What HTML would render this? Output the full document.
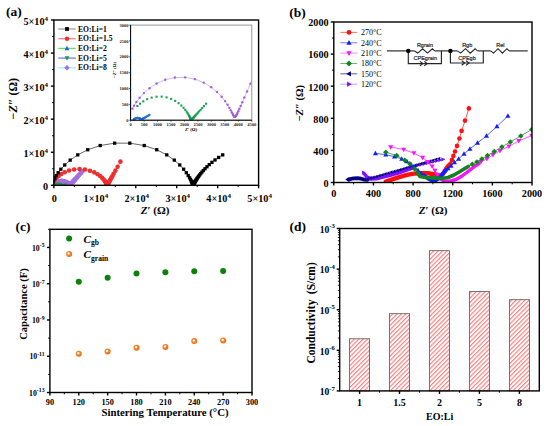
<!DOCTYPE html>
<html><head><meta charset="utf-8"><style>
html,body{margin:0;padding:0;background:#fff;overflow:hidden;width:550px;height:426px;}
svg{display:block;}
</style></head><body>
<svg width="550" height="426" viewBox="0 0 550 426">
<rect width="550" height="426" fill="#fff"/>
<g id="pa">
<clipPath id="ca"><rect x="53.9" y="20.0" width="204.70000000000002" height="165.3"/></clipPath>
<g clip-path="url(#ca)">
<path d="M54.38,183.43L56.14,186.55L52.62,186.55Z" fill="#1f5fe0" />
<path d="M54.39,183.43L56.15,186.55L52.63,186.55Z" fill="#1f5fe0" />
<path d="M54.4,183.42L56.16,186.54L52.64,186.54Z" fill="#1f5fe0" />
<path d="M54.41,183.41L56.17,186.53L52.65,186.53Z" fill="#1f5fe0" />
<path d="M54.42,183.4L56.18,186.52L52.66,186.52Z" fill="#1f5fe0" />
<path d="M54.43,183.39L56.19,186.51L52.67,186.51Z" fill="#1f5fe0" />
<path d="M54.45,183.38L56.21,186.5L52.69,186.5Z" fill="#1f5fe0" />
<path d="M54.48,183.36L56.24,186.48L52.72,186.48Z" fill="#1f5fe0" />
<path d="M54.51,183.34L56.27,186.46L52.75,186.46Z" fill="#1f5fe0" />
<path d="M54.54,183.32L56.3,186.44L52.78,186.44Z" fill="#1f5fe0" />
<path d="M54.59,183.3L56.35,186.42L52.83,186.42Z" fill="#1f5fe0" />
<path d="M54.64,183.28L56.4,186.4L52.88,186.4Z" fill="#1f5fe0" />
<path d="M54.71,183.26L56.47,186.38L52.95,186.38Z" fill="#1f5fe0" />
<path d="M54.78,183.24L56.54,186.36L53.02,186.36Z" fill="#1f5fe0" />
<path d="M54.85,183.23L56.61,186.35L53.09,186.35Z" fill="#1f5fe0" />
<path d="M54.93,183.23L56.69,186.35L53.17,186.35Z" fill="#1f5fe0" />
<path d="M55.01,183.23L56.77,186.35L53.25,186.35Z" fill="#1f5fe0" />
<path d="M55.09,183.24L56.85,186.36L53.33,186.36Z" fill="#1f5fe0" />
<path d="M55.16,183.26L56.92,186.38L53.4,186.38Z" fill="#1f5fe0" />
<path d="M55.22,183.27L56.98,186.39L53.46,186.39Z" fill="#1f5fe0" />
<path d="M55.28,183.29L57.04,186.41L53.52,186.41Z" fill="#1f5fe0" />
<path d="M55.32,183.31L57.08,186.43L53.56,186.43Z" fill="#1f5fe0" />
<path d="M55.36,183.33L57.12,186.45L53.6,186.45Z" fill="#1f5fe0" />
<path d="M55.4,183.34L57.16,186.46L53.64,186.46Z" fill="#1f5fe0" />
<path d="M55.43,183.36L57.19,186.48L53.67,186.48Z" fill="#1f5fe0" />
<path d="M55.45,183.37L57.21,186.49L53.69,186.49Z" fill="#1f5fe0" />
<path d="M55.48,183.38L57.24,186.5L53.72,186.5Z" fill="#1f5fe0" />
<path d="M55.5,183.38L57.26,186.5L53.74,186.5Z" fill="#1f5fe0" />
<path d="M55.52,183.39L57.28,186.51L53.76,186.51Z" fill="#1f5fe0" />
<path d="M55.54,183.39L57.3,186.51L53.78,186.51Z" fill="#1f5fe0" />
<path d="M55.55,183.39L57.31,186.51L53.79,186.51Z" fill="#1f5fe0" />
<path d="M55.57,183.39L57.33,186.51L53.81,186.51Z" fill="#1f5fe0" />
<path d="M55.59,183.39L57.35,186.51L53.83,186.51Z" fill="#1f5fe0" />
<path d="M55.62,183.38L57.38,186.5L53.86,186.5Z" fill="#1f5fe0" />
<path d="M55.64,183.38L57.4,186.5L53.88,186.5Z" fill="#1f5fe0" />
<path d="M55.66,183.37L57.42,186.49L53.9,186.49Z" fill="#1f5fe0" />
<path d="M55.69,183.37L57.45,186.49L53.93,186.49Z" fill="#1f5fe0" />
<path d="M55.72,183.36L57.48,186.48L53.96,186.48Z" fill="#1f5fe0" />
<path d="M55.75,183.35L57.51,186.47L53.99,186.47Z" fill="#1f5fe0" />
<path d="M55.78,183.34L57.54,186.46L54.02,186.46Z" fill="#1f5fe0" />
<path d="M55.81,183.33L57.57,186.45L54.05,186.45Z" fill="#1f5fe0" />
<path d="M55.85,183.32L57.61,186.44L54.09,186.44Z" fill="#1f5fe0" />
<path d="M55.9,183.3L57.66,186.42L54.14,186.42Z" fill="#1f5fe0" />
<path d="M55.94,183.29L57.7,186.41L54.18,186.41Z" fill="#1f5fe0" />
<path d="M55.99,183.27L57.75,186.39L54.23,186.39Z" fill="#1f5fe0" />
<path d="M56.05,183.26L57.81,186.38L54.29,186.38Z" fill="#1f5fe0" />
<path d="M56.11,183.24L57.87,186.36L54.35,186.36Z" fill="#1f5fe0" />
<path d="M56.18,183.22L57.94,186.34L54.42,186.34Z" fill="#1f5fe0" />
<path d="M56.25,183.19L58.01,186.31L54.49,186.31Z" fill="#1f5fe0" />
<path d="M56.33,183.17L58.09,186.29L54.57,186.29Z" fill="#1f5fe0" />
<path d="M56.42,183.14L58.18,186.26L54.66,186.26Z" fill="#1f5fe0" />
<polyline points="54.82,183.7 55.23,183.4 55.73,183.07 56.34,182.72 57.08,182.38 57.96,182.05 58.96,181.78 60.07,181.59 61.24,181.5 62.42,181.53 63.56,181.68 64.62,181.92 65.56,182.22 66.36,182.56 67.04,182.91 67.59,183.25 68.03,183.56 68.39,183.84 68.68,184.08 68.9,184.29 69.08,184.47 69.22,184.61 69.34,184.74 69.43,184.83 69.5,184.91 69.57,184.98 69.62,185.03 69.66,185.06 69.7,185.09 69.73,185.11 69.76,185.12 69.79,185.12 69.82,185.12 69.85,185.1 69.89,185.08 69.93,185.05 69.98,185.01 70.03,184.96 70.1,184.9 70.17,184.82 70.27,184.72 70.38,184.6 70.52,184.45 70.69,184.26 70.89,184.04 71.14,183.77 71.44,183.44 71.8,183.03 72.25,182.54 72.79,181.93 73.45,181.2 74.26,180.31 75.24,179.22 76.43,177.89 77.88,176.27 79.66,174.3 81.81,171.91" fill="none" stroke="#b080e0" stroke-width="0.6" stroke-linejoin="round" />
<path d="M54.82,180.51L58.01,183.7L54.82,186.89L51.64,183.7Z" fill="#a46fe0" />
<path d="M55.23,180.21L58.41,183.4L55.23,186.59L52.04,183.4Z" fill="#a46fe0" />
<path d="M55.73,179.88L58.91,183.07L55.73,186.26L52.54,183.07Z" fill="#a46fe0" />
<path d="M56.34,179.54L59.53,182.72L56.34,185.91L53.15,182.72Z" fill="#a46fe0" />
<path d="M57.08,179.19L60.27,182.38L57.08,185.56L53.9,182.38Z" fill="#a46fe0" />
<path d="M57.96,178.86L61.15,182.05L57.96,185.24L54.77,182.05Z" fill="#a46fe0" />
<path d="M58.96,178.59L62.15,181.78L58.96,184.97L55.78,181.78Z" fill="#a46fe0" />
<path d="M60.07,178.4L63.26,181.59L60.07,184.78L56.88,181.59Z" fill="#a46fe0" />
<path d="M61.24,178.31L64.43,181.5L61.24,184.69L58.05,181.5Z" fill="#a46fe0" />
<path d="M62.42,178.35L65.61,181.53L62.42,184.72L59.24,181.53Z" fill="#a46fe0" />
<path d="M63.56,178.49L66.75,181.68L63.56,184.87L60.38,181.68Z" fill="#a46fe0" />
<path d="M64.62,178.73L67.81,181.92L64.62,185.1L61.43,181.92Z" fill="#a46fe0" />
<path d="M65.56,179.03L68.74,182.22L65.56,185.41L62.37,182.22Z" fill="#a46fe0" />
<path d="M66.36,179.37L69.55,182.56L66.36,185.75L63.17,182.56Z" fill="#a46fe0" />
<path d="M67.04,179.72L70.22,182.91L67.04,186.1L63.85,182.91Z" fill="#a46fe0" />
<path d="M67.59,180.06L70.78,183.25L67.59,186.43L64.4,183.25Z" fill="#a46fe0" />
<path d="M68.03,180.37L71.22,183.56L68.03,186.75L64.85,183.56Z" fill="#a46fe0" />
<path d="M68.39,180.65L71.58,183.84L68.39,187.03L65.2,183.84Z" fill="#a46fe0" />
<path d="M68.68,180.89L71.86,184.08L68.68,187.27L65.49,184.08Z" fill="#a46fe0" />
<path d="M68.9,181.1L72.09,184.29L68.9,187.48L65.71,184.29Z" fill="#a46fe0" />
<path d="M69.08,181.28L72.27,184.47L69.08,187.66L65.89,184.47Z" fill="#a46fe0" />
<path d="M69.22,181.43L72.41,184.61L69.22,187.8L66.04,184.61Z" fill="#a46fe0" />
<path d="M69.34,181.55L72.53,184.74L69.34,187.92L66.15,184.74Z" fill="#a46fe0" />
<path d="M69.43,181.65L72.62,184.83L69.43,188.02L66.24,184.83Z" fill="#a46fe0" />
<path d="M69.5,181.73L72.69,184.91L69.5,188.1L66.32,184.91Z" fill="#a46fe0" />
<path d="M69.57,181.79L72.75,184.98L69.57,188.17L66.38,184.98Z" fill="#a46fe0" />
<path d="M69.62,181.84L72.8,185.03L69.62,188.21L66.43,185.03Z" fill="#a46fe0" />
<path d="M69.66,181.88L72.85,185.06L69.66,188.25L66.47,185.06Z" fill="#a46fe0" />
<path d="M69.7,181.9L72.88,185.09L69.7,188.28L66.51,185.09Z" fill="#a46fe0" />
<path d="M69.73,181.92L72.92,185.11L69.73,188.3L66.54,185.11Z" fill="#a46fe0" />
<path d="M69.76,181.93L72.95,185.12L69.76,188.31L66.57,185.12Z" fill="#a46fe0" />
<path d="M69.79,181.93L72.98,185.12L69.79,188.31L66.6,185.12Z" fill="#a46fe0" />
<path d="M69.82,181.93L73.01,185.12L69.82,188.3L66.63,185.12Z" fill="#a46fe0" />
<path d="M69.85,181.92L73.04,185.1L69.85,188.29L66.67,185.1Z" fill="#a46fe0" />
<path d="M69.89,181.9L73.08,185.08L69.89,188.27L66.7,185.08Z" fill="#a46fe0" />
<path d="M69.93,181.87L73.12,185.05L69.93,188.24L66.74,185.05Z" fill="#a46fe0" />
<path d="M69.98,181.83L73.16,185.01L69.98,188.2L66.79,185.01Z" fill="#a46fe0" />
<path d="M70.03,181.78L73.22,184.96L70.03,188.15L66.84,184.96Z" fill="#a46fe0" />
<path d="M70.1,181.71L73.28,184.9L70.1,188.09L66.91,184.9Z" fill="#a46fe0" />
<path d="M70.17,181.63L73.36,184.82L70.17,188.01L66.99,184.82Z" fill="#a46fe0" />
<path d="M70.27,181.53L73.46,184.72L70.27,187.91L67.08,184.72Z" fill="#a46fe0" />
<path d="M70.38,181.41L73.57,184.6L70.38,187.78L67.19,184.6Z" fill="#a46fe0" />
<path d="M70.52,181.26L73.71,184.45L70.52,187.63L67.33,184.45Z" fill="#a46fe0" />
<path d="M70.69,181.08L73.87,184.26L70.69,187.45L67.5,184.26Z" fill="#a46fe0" />
<path d="M70.89,180.85L74.08,184.04L70.89,187.23L67.7,184.04Z" fill="#a46fe0" />
<path d="M71.14,180.58L74.32,183.77L71.14,186.96L67.95,183.77Z" fill="#a46fe0" />
<path d="M71.44,180.25L74.62,183.44L71.44,186.62L68.25,183.44Z" fill="#a46fe0" />
<path d="M71.8,179.84L74.99,183.03L71.8,186.22L68.61,183.03Z" fill="#a46fe0" />
<path d="M72.25,179.35L75.44,182.54L72.25,185.72L69.06,182.54Z" fill="#a46fe0" />
<path d="M72.79,178.75L75.98,181.93L72.79,185.12L69.6,181.93Z" fill="#a46fe0" />
<path d="M73.45,178.01L76.64,181.2L73.45,184.39L70.26,181.2Z" fill="#a46fe0" />
<path d="M74.26,177.12L77.44,180.31L74.26,183.49L71.07,180.31Z" fill="#a46fe0" />
<path d="M75.24,176.03L78.42,179.22L75.24,182.4L72.05,179.22Z" fill="#a46fe0" />
<path d="M76.43,174.7L79.62,177.89L76.43,181.08L73.24,177.89Z" fill="#a46fe0" />
<path d="M77.88,173.09L81.07,176.27L77.88,179.46L74.7,176.27Z" fill="#a46fe0" />
<path d="M79.66,171.12L82.84,174.3L79.66,177.49L76.47,174.3Z" fill="#a46fe0" />
<path d="M81.81,168.72L85,171.91L81.81,175.09L78.63,171.91Z" fill="#a46fe0" />
<path d="M55.05,184.88L56.37,182.54L53.73,182.54Z" fill="#1a9a40" transform="translate(0,0.8)"/>
<path d="M55.62,184.64L56.94,182.3L54.3,182.3Z" fill="#1a9a40" transform="translate(0,0.8)"/>
<path d="M56.29,184.43L57.61,182.09L54.97,182.09Z" fill="#1a9a40" transform="translate(0,0.8)"/>
<path d="M57.04,184.29L58.36,181.95L55.72,181.95Z" fill="#1a9a40" transform="translate(0,0.8)"/>
<path d="M57.84,184.22L59.16,181.88L56.52,181.88Z" fill="#1a9a40" transform="translate(0,0.8)"/>
<path d="M58.65,184.25L59.97,181.91L57.33,181.91Z" fill="#1a9a40" transform="translate(0,0.8)"/>
<path d="M59.43,184.37L60.75,182.03L58.11,182.03Z" fill="#1a9a40" transform="translate(0,0.8)"/>
<path d="M60.13,184.55L61.45,182.21L58.81,182.21Z" fill="#1a9a40" transform="translate(0,0.8)"/>
<path d="M60.73,184.78L62.05,182.44L59.41,182.44Z" fill="#1a9a40" transform="translate(0,0.8)"/>
<path d="M61.24,185.03L62.56,182.69L59.92,182.69Z" fill="#1a9a40" transform="translate(0,0.8)"/>
<path d="M61.64,185.28L62.96,182.94L60.32,182.94Z" fill="#1a9a40" transform="translate(0,0.8)"/>
<path d="M61.96,185.51L63.28,183.17L60.64,183.17Z" fill="#1a9a40" transform="translate(0,0.8)"/>
<path d="M62.21,185.71L63.53,183.37L60.89,183.37Z" fill="#1a9a40" transform="translate(0,0.8)"/>
<path d="M62.4,185.89L63.72,183.55L61.08,183.55Z" fill="#1a9a40" transform="translate(0,0.8)"/>
<path d="M62.55,186.04L63.87,183.7L61.23,183.7Z" fill="#1a9a40" transform="translate(0,0.8)"/>
<path d="M62.66,186.16L63.98,183.82L61.34,183.82Z" fill="#1a9a40" transform="translate(0,0.8)"/>
<path d="M62.75,186.26L64.07,183.92L61.43,183.92Z" fill="#1a9a40" transform="translate(0,0.8)"/>
<path d="M62.82,186.35L64.14,184.01L61.5,184.01Z" fill="#1a9a40" transform="translate(0,0.8)"/>
<path d="M62.87,186.41L64.19,184.07L61.55,184.07Z" fill="#1a9a40" transform="translate(0,0.8)"/>
<path d="M62.91,186.46L64.23,184.12L61.59,184.12Z" fill="#1a9a40" transform="translate(0,0.8)"/>
<path d="M62.95,186.51L64.27,184.17L61.63,184.17Z" fill="#1a9a40" transform="translate(0,0.8)"/>
<path d="M62.97,186.54L64.29,184.2L61.65,184.2Z" fill="#1a9a40" transform="translate(0,0.8)"/>
<path d="M62.99,186.57L64.31,184.23L61.67,184.23Z" fill="#1a9a40" transform="translate(0,0.8)"/>
<path d="M63.01,186.59L64.33,184.25L61.69,184.25Z" fill="#1a9a40" transform="translate(0,0.8)"/>
<path d="M63.02,186.6L64.34,184.26L61.7,184.26Z" fill="#1a9a40" transform="translate(0,0.8)"/>
<path d="M63.04,186.61L64.36,184.27L61.72,184.27Z" fill="#1a9a40" transform="translate(0,0.8)"/>
<path d="M63.05,186.62L64.37,184.28L61.73,184.28Z" fill="#1a9a40" transform="translate(0,0.8)"/>
<path d="M63.06,186.63L64.38,184.29L61.74,184.29Z" fill="#1a9a40" transform="translate(0,0.8)"/>
<path d="M63.07,186.63L64.39,184.29L61.75,184.29Z" fill="#1a9a40" transform="translate(0,0.8)"/>
<path d="M63.08,186.63L64.4,184.29L61.76,184.29Z" fill="#1a9a40" transform="translate(0,0.8)"/>
<path d="M63.09,186.63L64.41,184.29L61.77,184.29Z" fill="#1a9a40" transform="translate(0,0.8)"/>
<path d="M63.1,186.63L64.42,184.29L61.78,184.29Z" fill="#1a9a40" transform="translate(0,0.8)"/>
<path d="M63.11,186.62L64.43,184.28L61.79,184.28Z" fill="#1a9a40" transform="translate(0,0.8)"/>
<path d="M63.12,186.61L64.44,184.27L61.8,184.27Z" fill="#1a9a40" transform="translate(0,0.8)"/>
<path d="M63.14,186.61L64.46,184.27L61.82,184.27Z" fill="#1a9a40" transform="translate(0,0.8)"/>
<path d="M63.16,186.6L64.48,184.26L61.84,184.26Z" fill="#1a9a40" transform="translate(0,0.8)"/>
<path d="M63.18,186.58L64.5,184.24L61.86,184.24Z" fill="#1a9a40" transform="translate(0,0.8)"/>
<path d="M63.2,186.57L64.52,184.23L61.88,184.23Z" fill="#1a9a40" transform="translate(0,0.8)"/>
<path d="M63.22,186.55L64.54,184.21L61.9,184.21Z" fill="#1a9a40" transform="translate(0,0.8)"/>
<path d="M63.26,186.53L64.58,184.19L61.94,184.19Z" fill="#1a9a40" transform="translate(0,0.8)"/>
<path d="M63.29,186.5L64.61,184.16L61.97,184.16Z" fill="#1a9a40" transform="translate(0,0.8)"/>
<path d="M63.34,186.47L64.66,184.13L62.02,184.13Z" fill="#1a9a40" transform="translate(0,0.8)"/>
<path d="M63.39,186.43L64.71,184.09L62.07,184.09Z" fill="#1a9a40" transform="translate(0,0.8)"/>
<path d="M63.44,186.39L64.76,184.05L62.12,184.05Z" fill="#1a9a40" transform="translate(0,0.8)"/>
<path d="M63.51,186.34L64.83,184L62.19,184Z" fill="#1a9a40" transform="translate(0,0.8)"/>
<path d="M63.6,186.28L64.92,183.94L62.28,183.94Z" fill="#1a9a40" transform="translate(0,0.8)"/>
<path d="M63.69,186.21L65.01,183.87L62.37,183.87Z" fill="#1a9a40" transform="translate(0,0.8)"/>
<path d="M63.8,186.13L65.12,183.79L62.48,183.79Z" fill="#1a9a40" transform="translate(0,0.8)"/>
<path d="M63.94,186.03L65.26,183.69L62.62,183.69Z" fill="#1a9a40" transform="translate(0,0.8)"/>
<path d="M64.09,185.92L65.41,183.58L62.77,183.58Z" fill="#1a9a40" transform="translate(0,0.8)"/>
<path d="M64.27,185.78L65.59,183.44L62.95,183.44Z" fill="#1a9a40" transform="translate(0,0.8)"/>
<path d="M64.49,185.62L65.81,183.28L63.17,183.28Z" fill="#1a9a40" transform="translate(0,0.8)"/>
<path d="M64.74,185.44L66.06,183.1L63.42,183.1Z" fill="#1a9a40" transform="translate(0,0.8)"/>
<path d="M65.04,185.22L66.36,182.88L63.72,182.88Z" fill="#1a9a40" transform="translate(0,0.8)"/>
<path d="M65.38,184.97L66.7,182.63L64.06,182.63Z" fill="#1a9a40" transform="translate(0,0.8)"/>
<polyline points="51.41,185.12 51.43,185.07 51.46,185 51.5,184.91 51.55,184.79 51.62,184.64 51.71,184.45 51.83,184.2 51.99,183.87 52.21,183.46 52.5,182.94 52.89,182.27 53.44,181.43 54.19,180.4 55.23,179.13 56.66,177.62 58.63,175.9 61.29,174.04 64.75,172.18 69.06,170.57 74.1,169.46 79.55,169.09 84.99,169.54 89.96,170.71 94.19,172.36 97.57,174.22 100.15,176.07 102.06,177.77 103.46,179.24 104.47,180.48 105.2,181.49 105.73,182.3 106.12,182.94 106.41,183.43 106.63,183.82 106.8,184.1 106.93,184.31 107.04,184.46 107.14,184.56 107.23,184.6 107.31,184.61 107.4,184.56 107.5,184.48 107.62,184.34 107.75,184.15 107.92,183.89 108.13,183.55 108.39,183.11 108.72,182.54 109.14,181.81 109.67,180.88 110.34,179.69 111.19,178.17 112.27,176.24 113.64,173.79 115.39,170.67 117.61,166.7 120.43,161.66" fill="none" stroke="#f03030" stroke-width="0.6" stroke-linejoin="round" />
<circle cx="51.41" cy="185.12" r="2.3" fill="#ef2f2f" />
<circle cx="51.43" cy="185.07" r="2.3" fill="#ef2f2f" />
<circle cx="51.46" cy="185" r="2.3" fill="#ef2f2f" />
<circle cx="51.5" cy="184.91" r="2.3" fill="#ef2f2f" />
<circle cx="51.55" cy="184.79" r="2.3" fill="#ef2f2f" />
<circle cx="51.62" cy="184.64" r="2.3" fill="#ef2f2f" />
<circle cx="51.71" cy="184.45" r="2.3" fill="#ef2f2f" />
<circle cx="51.83" cy="184.2" r="2.3" fill="#ef2f2f" />
<circle cx="51.99" cy="183.87" r="2.3" fill="#ef2f2f" />
<circle cx="52.21" cy="183.46" r="2.3" fill="#ef2f2f" />
<circle cx="52.5" cy="182.94" r="2.3" fill="#ef2f2f" />
<circle cx="52.89" cy="182.27" r="2.3" fill="#ef2f2f" />
<circle cx="53.44" cy="181.43" r="2.3" fill="#ef2f2f" />
<circle cx="54.19" cy="180.4" r="2.3" fill="#ef2f2f" />
<circle cx="55.23" cy="179.13" r="2.3" fill="#ef2f2f" />
<circle cx="56.66" cy="177.62" r="2.3" fill="#ef2f2f" />
<circle cx="58.63" cy="175.9" r="2.3" fill="#ef2f2f" />
<circle cx="61.29" cy="174.04" r="2.3" fill="#ef2f2f" />
<circle cx="64.75" cy="172.18" r="2.3" fill="#ef2f2f" />
<circle cx="69.06" cy="170.57" r="2.3" fill="#ef2f2f" />
<circle cx="74.1" cy="169.46" r="2.3" fill="#ef2f2f" />
<circle cx="79.55" cy="169.09" r="2.3" fill="#ef2f2f" />
<circle cx="84.99" cy="169.54" r="2.3" fill="#ef2f2f" />
<circle cx="89.96" cy="170.71" r="2.3" fill="#ef2f2f" />
<circle cx="94.19" cy="172.36" r="2.3" fill="#ef2f2f" />
<circle cx="97.57" cy="174.22" r="2.3" fill="#ef2f2f" />
<circle cx="100.15" cy="176.07" r="2.3" fill="#ef2f2f" />
<circle cx="102.06" cy="177.77" r="2.3" fill="#ef2f2f" />
<circle cx="103.46" cy="179.24" r="2.3" fill="#ef2f2f" />
<circle cx="104.47" cy="180.48" r="2.3" fill="#ef2f2f" />
<circle cx="105.2" cy="181.49" r="2.3" fill="#ef2f2f" />
<circle cx="105.73" cy="182.3" r="2.3" fill="#ef2f2f" />
<circle cx="106.12" cy="182.94" r="2.3" fill="#ef2f2f" />
<circle cx="106.41" cy="183.43" r="2.3" fill="#ef2f2f" />
<circle cx="106.63" cy="183.82" r="2.3" fill="#ef2f2f" />
<circle cx="106.8" cy="184.1" r="2.3" fill="#ef2f2f" />
<circle cx="106.93" cy="184.31" r="2.3" fill="#ef2f2f" />
<circle cx="107.04" cy="184.46" r="2.3" fill="#ef2f2f" />
<circle cx="107.14" cy="184.56" r="2.3" fill="#ef2f2f" />
<circle cx="107.23" cy="184.6" r="2.3" fill="#ef2f2f" />
<circle cx="107.31" cy="184.61" r="2.3" fill="#ef2f2f" />
<circle cx="107.4" cy="184.56" r="2.3" fill="#ef2f2f" />
<circle cx="107.5" cy="184.48" r="2.3" fill="#ef2f2f" />
<circle cx="107.62" cy="184.34" r="2.3" fill="#ef2f2f" />
<circle cx="107.75" cy="184.15" r="2.3" fill="#ef2f2f" />
<circle cx="107.92" cy="183.89" r="2.3" fill="#ef2f2f" />
<circle cx="108.13" cy="183.55" r="2.3" fill="#ef2f2f" />
<circle cx="108.39" cy="183.11" r="2.3" fill="#ef2f2f" />
<circle cx="108.72" cy="182.54" r="2.3" fill="#ef2f2f" />
<circle cx="109.14" cy="181.81" r="2.3" fill="#ef2f2f" />
<circle cx="109.67" cy="180.88" r="2.3" fill="#ef2f2f" />
<circle cx="110.34" cy="179.69" r="2.3" fill="#ef2f2f" />
<circle cx="111.19" cy="178.17" r="2.3" fill="#ef2f2f" />
<circle cx="112.27" cy="176.24" r="2.3" fill="#ef2f2f" />
<circle cx="113.64" cy="173.79" r="2.3" fill="#ef2f2f" />
<circle cx="115.39" cy="170.67" r="2.3" fill="#ef2f2f" />
<circle cx="117.61" cy="166.7" r="2.3" fill="#ef2f2f" />
<circle cx="120.43" cy="161.66" r="2.3" fill="#ef2f2f" />
<polyline points="52.79,181.95 53.28,180.9 53.96,179.55 54.91,177.8 56.25,175.56 58.14,172.73 60.85,169.22 64.72,165 70.18,160.13 77.72,154.87 87.72,149.74 100.22,145.55 114.65,143.16 129.81,143.16 144.24,145.55 156.74,149.74 166.74,154.86 174.28,160.12 179.74,164.99 183.61,169.21 186.32,172.72 188.22,175.54 189.56,177.78 190.51,179.52 191.19,180.87 191.68,181.91 192.05,182.69 192.32,183.29 192.52,183.74 192.68,184.07 192.8,184.31 192.9,184.47 192.99,184.57 193.07,184.62 193.11,184.63 193.16,184.62 193.2,184.6 193.25,184.57 193.3,184.52 193.35,184.46 193.41,184.39 193.47,184.29 193.55,184.19 193.63,184.06 193.72,183.9 193.83,183.73 193.95,183.53 194.08,183.29 194.24,183.03 194.42,182.72 194.62,182.37 194.86,181.97 195.13,181.52 195.45,181.01 195.81,180.42 196.23,179.76 196.72,179.01 197.29,178.17 197.95,177.22 198.72,176.15 199.62,174.96 200.67,173.63 201.89,172.15 203.33,170.51 205.01,168.71 206.97,166.75 209.26,164.62 211.93,162.35 215.03,159.94 218.6,157.43 222.71,154.87" fill="none" stroke="#000" stroke-width="0.6" stroke-linejoin="round" />
<rect x="51.14" y="180.3" width="3.3" height="3.3" fill="#000" />
<rect x="51.63" y="179.25" width="3.3" height="3.3" fill="#000" />
<rect x="52.31" y="177.9" width="3.3" height="3.3" fill="#000" />
<rect x="53.26" y="176.15" width="3.3" height="3.3" fill="#000" />
<rect x="54.6" y="173.91" width="3.3" height="3.3" fill="#000" />
<rect x="56.49" y="171.08" width="3.3" height="3.3" fill="#000" />
<rect x="59.2" y="167.57" width="3.3" height="3.3" fill="#000" />
<rect x="63.07" y="163.35" width="3.3" height="3.3" fill="#000" />
<rect x="68.53" y="158.48" width="3.3" height="3.3" fill="#000" />
<rect x="76.07" y="153.22" width="3.3" height="3.3" fill="#000" />
<rect x="86.07" y="148.09" width="3.3" height="3.3" fill="#000" />
<rect x="98.57" y="143.9" width="3.3" height="3.3" fill="#000" />
<rect x="113" y="141.51" width="3.3" height="3.3" fill="#000" />
<rect x="128.16" y="141.51" width="3.3" height="3.3" fill="#000" />
<rect x="142.59" y="143.9" width="3.3" height="3.3" fill="#000" />
<rect x="155.09" y="148.09" width="3.3" height="3.3" fill="#000" />
<rect x="165.09" y="153.21" width="3.3" height="3.3" fill="#000" />
<rect x="172.63" y="158.47" width="3.3" height="3.3" fill="#000" />
<rect x="178.09" y="163.34" width="3.3" height="3.3" fill="#000" />
<rect x="181.96" y="167.56" width="3.3" height="3.3" fill="#000" />
<rect x="184.67" y="171.07" width="3.3" height="3.3" fill="#000" />
<rect x="186.57" y="173.89" width="3.3" height="3.3" fill="#000" />
<rect x="187.91" y="176.13" width="3.3" height="3.3" fill="#000" />
<rect x="188.86" y="177.87" width="3.3" height="3.3" fill="#000" />
<rect x="189.54" y="179.22" width="3.3" height="3.3" fill="#000" />
<rect x="190.03" y="180.26" width="3.3" height="3.3" fill="#000" />
<rect x="190.4" y="181.04" width="3.3" height="3.3" fill="#000" />
<rect x="190.67" y="181.64" width="3.3" height="3.3" fill="#000" />
<rect x="190.87" y="182.09" width="3.3" height="3.3" fill="#000" />
<rect x="191.03" y="182.42" width="3.3" height="3.3" fill="#000" />
<rect x="191.15" y="182.66" width="3.3" height="3.3" fill="#000" />
<rect x="191.25" y="182.82" width="3.3" height="3.3" fill="#000" />
<rect x="191.34" y="182.92" width="3.3" height="3.3" fill="#000" />
<rect x="191.42" y="182.97" width="3.3" height="3.3" fill="#000" />
<rect x="191.46" y="182.98" width="3.3" height="3.3" fill="#000" />
<rect x="191.51" y="182.97" width="3.3" height="3.3" fill="#000" />
<rect x="191.55" y="182.95" width="3.3" height="3.3" fill="#000" />
<rect x="191.6" y="182.92" width="3.3" height="3.3" fill="#000" />
<rect x="191.65" y="182.87" width="3.3" height="3.3" fill="#000" />
<rect x="191.7" y="182.81" width="3.3" height="3.3" fill="#000" />
<rect x="191.76" y="182.74" width="3.3" height="3.3" fill="#000" />
<rect x="191.82" y="182.64" width="3.3" height="3.3" fill="#000" />
<rect x="191.9" y="182.54" width="3.3" height="3.3" fill="#000" />
<rect x="191.98" y="182.41" width="3.3" height="3.3" fill="#000" />
<rect x="192.07" y="182.25" width="3.3" height="3.3" fill="#000" />
<rect x="192.18" y="182.08" width="3.3" height="3.3" fill="#000" />
<rect x="192.3" y="181.88" width="3.3" height="3.3" fill="#000" />
<rect x="192.43" y="181.64" width="3.3" height="3.3" fill="#000" />
<rect x="192.59" y="181.38" width="3.3" height="3.3" fill="#000" />
<rect x="192.77" y="181.07" width="3.3" height="3.3" fill="#000" />
<rect x="192.97" y="180.72" width="3.3" height="3.3" fill="#000" />
<rect x="193.21" y="180.32" width="3.3" height="3.3" fill="#000" />
<rect x="193.48" y="179.87" width="3.3" height="3.3" fill="#000" />
<rect x="193.8" y="179.36" width="3.3" height="3.3" fill="#000" />
<rect x="194.16" y="178.77" width="3.3" height="3.3" fill="#000" />
<rect x="194.58" y="178.11" width="3.3" height="3.3" fill="#000" />
<rect x="195.07" y="177.36" width="3.3" height="3.3" fill="#000" />
<rect x="195.64" y="176.52" width="3.3" height="3.3" fill="#000" />
<rect x="196.3" y="175.57" width="3.3" height="3.3" fill="#000" />
<rect x="197.07" y="174.5" width="3.3" height="3.3" fill="#000" />
<rect x="197.97" y="173.31" width="3.3" height="3.3" fill="#000" />
<rect x="199.02" y="171.98" width="3.3" height="3.3" fill="#000" />
<rect x="200.24" y="170.5" width="3.3" height="3.3" fill="#000" />
<rect x="201.68" y="168.86" width="3.3" height="3.3" fill="#000" />
<rect x="203.36" y="167.06" width="3.3" height="3.3" fill="#000" />
<rect x="205.32" y="165.1" width="3.3" height="3.3" fill="#000" />
<rect x="207.61" y="162.97" width="3.3" height="3.3" fill="#000" />
<rect x="210.28" y="160.7" width="3.3" height="3.3" fill="#000" />
<rect x="213.38" y="158.29" width="3.3" height="3.3" fill="#000" />
<rect x="216.95" y="155.78" width="3.3" height="3.3" fill="#000" />
<rect x="221.06" y="153.22" width="3.3" height="3.3" fill="#000" />
</g>
<rect x="53.9" y="20.0" width="204.70000000000002" height="165.3" fill="none" stroke="#000" stroke-width="1.4"/>
<line x1="50.9" y1="185.3" x2="53.9" y2="185.3" stroke="#000" stroke-width="1.4" />
<line x1="53.9" y1="185.3" x2="53.9" y2="188.3" stroke="#000" stroke-width="1.4" />
<line x1="50.9" y1="152.24" x2="53.9" y2="152.24" stroke="#000" stroke-width="1.4" />
<line x1="94.84" y1="185.3" x2="94.84" y2="188.3" stroke="#000" stroke-width="1.4" />
<line x1="50.9" y1="119.18" x2="53.9" y2="119.18" stroke="#000" stroke-width="1.4" />
<line x1="135.78" y1="185.3" x2="135.78" y2="188.3" stroke="#000" stroke-width="1.4" />
<line x1="50.9" y1="86.12" x2="53.9" y2="86.12" stroke="#000" stroke-width="1.4" />
<line x1="176.72" y1="185.3" x2="176.72" y2="188.3" stroke="#000" stroke-width="1.4" />
<line x1="50.9" y1="53.06" x2="53.9" y2="53.06" stroke="#000" stroke-width="1.4" />
<line x1="217.66" y1="185.3" x2="217.66" y2="188.3" stroke="#000" stroke-width="1.4" />
<line x1="50.9" y1="20" x2="53.9" y2="20" stroke="#000" stroke-width="1.4" />
<line x1="258.6" y1="185.3" x2="258.6" y2="188.3" stroke="#000" stroke-width="1.4" />
<line x1="52.1" y1="168.77" x2="53.9" y2="168.77" stroke="#000" stroke-width="1.0" />
<line x1="74.37" y1="185.3" x2="74.37" y2="187.1" stroke="#000" stroke-width="1.0" />
<line x1="52.1" y1="135.71" x2="53.9" y2="135.71" stroke="#000" stroke-width="1.0" />
<line x1="115.31" y1="185.3" x2="115.31" y2="187.1" stroke="#000" stroke-width="1.0" />
<line x1="52.1" y1="102.65" x2="53.9" y2="102.65" stroke="#000" stroke-width="1.0" />
<line x1="156.25" y1="185.3" x2="156.25" y2="187.1" stroke="#000" stroke-width="1.0" />
<line x1="52.1" y1="69.59" x2="53.9" y2="69.59" stroke="#000" stroke-width="1.0" />
<line x1="197.19" y1="185.3" x2="197.19" y2="187.1" stroke="#000" stroke-width="1.0" />
<line x1="52.1" y1="36.53" x2="53.9" y2="36.53" stroke="#000" stroke-width="1.0" />
<line x1="238.13" y1="185.3" x2="238.13" y2="187.1" stroke="#000" stroke-width="1.0" />
<text x="48" y="189.8" font-size="10.2" text-anchor="end" font-weight="bold" font-style="normal" font-family='"Liberation Serif", serif' fill="#000" >0</text>
<text x="54.4" y="202.1" font-size="10.2" text-anchor="middle" font-weight="bold" font-style="normal" font-family='"Liberation Serif", serif' fill="#000" >0</text>
<text x="48" y="156.74" font-size="10.2" text-anchor="end" font-weight="bold" font-family='"Liberation Serif", serif' >1×10<tspan font-size="7" dy="-3.8">4</tspan></text>
<text x="95.84" y="202.1" font-size="10.2" text-anchor="middle" font-weight="bold" font-family='"Liberation Serif", serif' >1×10<tspan font-size="7" dy="-3.9">4</tspan></text>
<text x="48" y="123.68" font-size="10.2" text-anchor="end" font-weight="bold" font-family='"Liberation Serif", serif' >2×10<tspan font-size="7" dy="-3.8">4</tspan></text>
<text x="136.78" y="202.1" font-size="10.2" text-anchor="middle" font-weight="bold" font-family='"Liberation Serif", serif' >2×10<tspan font-size="7" dy="-3.9">4</tspan></text>
<text x="48" y="90.62" font-size="10.2" text-anchor="end" font-weight="bold" font-family='"Liberation Serif", serif' >3×10<tspan font-size="7" dy="-3.8">4</tspan></text>
<text x="177.72" y="202.1" font-size="10.2" text-anchor="middle" font-weight="bold" font-family='"Liberation Serif", serif' >3×10<tspan font-size="7" dy="-3.9">4</tspan></text>
<text x="48" y="57.56" font-size="10.2" text-anchor="end" font-weight="bold" font-family='"Liberation Serif", serif' >4×10<tspan font-size="7" dy="-3.8">4</tspan></text>
<text x="218.66" y="202.1" font-size="10.2" text-anchor="middle" font-weight="bold" font-family='"Liberation Serif", serif' >4×10<tspan font-size="7" dy="-3.9">4</tspan></text>
<text x="48" y="24.5" font-size="10.2" text-anchor="end" font-weight="bold" font-family='"Liberation Serif", serif' >5×10<tspan font-size="7" dy="-3.8">4</tspan></text>
<text x="259.6" y="202.1" font-size="10.2" text-anchor="middle" font-weight="bold" font-family='"Liberation Serif", serif' >5×10<tspan font-size="7" dy="-3.9">4</tspan></text>
<text transform="translate(17.3,98.7) rotate(-90)" font-size="12" text-anchor="middle" font-weight="bold" font-family='"Liberation Serif", serif'>−<tspan font-style="italic">Z″</tspan> (Ω)</text>
<text x="155" y="213.6" font-size="11" text-anchor="middle" font-weight="bold" font-family='"Liberation Serif", serif'><tspan font-style="italic">Z′</tspan> (Ω)</text>
<text x="6" y="16.3" font-size="13.5" text-anchor="start" font-weight="bold" font-style="normal" font-family='"Liberation Serif", serif' fill="#000" >(a)</text>
<line x1="58.2" y1="29" x2="75.8" y2="29" stroke="#a0a0a0" stroke-width="1.3" />
<rect x="65.1" y="27.1" width="3.8" height="3.8" fill="#000" />
<text x="78" y="31.6" font-size="7.6" text-anchor="start" font-weight="bold" font-style="normal" font-family='"Liberation Serif", serif' fill="#000" >EO:Li=1</text>
<line x1="58.2" y1="38.7" x2="75.8" y2="38.7" stroke="#ff8080" stroke-width="1.3" />
<circle cx="67" cy="38.7" r="2.2" fill="#ef2f2f" />
<text x="78" y="41.3" font-size="7.6" text-anchor="start" font-weight="bold" font-style="normal" font-family='"Liberation Serif", serif' fill="#000" >EO:Li=1.5</text>
<line x1="58.2" y1="48.4" x2="75.8" y2="48.4" stroke="#60e060" stroke-width="1.3" />
<path d="M67,45.87L69.42,50.16L64.58,50.16Z" fill="#1f5fe0" />
<text x="78" y="51" font-size="7.6" text-anchor="start" font-weight="bold" font-style="normal" font-family='"Liberation Serif", serif' fill="#000" >EO:Li=2</text>
<line x1="58.2" y1="58.1" x2="75.8" y2="58.1" stroke="#7878ff" stroke-width="1.3" />
<path d="M67,60.63L69.42,56.34L64.58,56.34Z" fill="#1a9a40" />
<text x="78" y="60.7" font-size="7.6" text-anchor="start" font-weight="bold" font-style="normal" font-family='"Liberation Serif", serif' fill="#000" >EO:Li=5</text>
<line x1="58.2" y1="67.8" x2="75.8" y2="67.8" stroke="#80ffff" stroke-width="1.3" />
<path d="M67,65.05L69.75,67.8L67,70.55L64.25,67.8Z" fill="#a56de0" />
<text x="78" y="70.4" font-size="7.6" text-anchor="start" font-weight="bold" font-style="normal" font-family='"Liberation Serif", serif' fill="#000" >EO:Li=8</text>
<clipPath id="ci"><rect x="130.6" y="25.1" width="121.20000000000002" height="95.1"/></clipPath>
<g clip-path="url(#ci)">
<polyline points="132.35,108.65 134.08,105.64 136.43,102.03 139.62,97.81 143.9,93.11 149.52,88.2 156.64,83.54 165.22,79.77 174.91,77.55 185.08,77.33 194.92,79.16 203.76,82.65 211.19,87.17 217.11,92.05 221.65,96.8 225.05,101.09 227.57,104.79 229.42,107.86 230.79,110.35 231.82,112.33 232.59,113.86 233.19,115.02 233.67,115.87 234.07,116.44 234.42,116.78 234.75,116.92 235.07,116.85 235.42,116.57 235.81,116.08 236.26,115.35 236.8,114.34 237.47,112.98 238.3,111.22 239.35,108.93 240.66,106 242.31,102.26 244.41,97.49 247.07,91.43 250.43,83.73 254.7,73.94" fill="none" stroke="#b58ae8" stroke-width="0.6" stroke-linejoin="round" />
<circle cx="132.35" cy="108.65" r="1.2" fill="#a060e0" />
<circle cx="134.08" cy="105.64" r="1.2" fill="#a060e0" />
<circle cx="136.43" cy="102.03" r="1.2" fill="#a060e0" />
<circle cx="139.62" cy="97.81" r="1.2" fill="#a060e0" />
<circle cx="143.9" cy="93.11" r="1.2" fill="#a060e0" />
<circle cx="149.52" cy="88.2" r="1.2" fill="#a060e0" />
<circle cx="156.64" cy="83.54" r="1.2" fill="#a060e0" />
<circle cx="165.22" cy="79.77" r="1.2" fill="#a060e0" />
<circle cx="174.91" cy="77.55" r="1.2" fill="#a060e0" />
<circle cx="185.08" cy="77.33" r="1.2" fill="#a060e0" />
<circle cx="194.92" cy="79.16" r="1.2" fill="#a060e0" />
<circle cx="203.76" cy="82.65" r="1.2" fill="#a060e0" />
<circle cx="211.19" cy="87.17" r="1.2" fill="#a060e0" />
<circle cx="217.11" cy="92.05" r="1.2" fill="#a060e0" />
<circle cx="221.65" cy="96.8" r="1.2" fill="#a060e0" />
<circle cx="225.05" cy="101.09" r="1.2" fill="#a060e0" />
<circle cx="227.57" cy="104.79" r="1.2" fill="#a060e0" />
<circle cx="229.42" cy="107.86" r="1.2" fill="#a060e0" />
<circle cx="230.79" cy="110.35" r="1.2" fill="#a060e0" />
<circle cx="231.82" cy="112.33" r="1.2" fill="#a060e0" />
<circle cx="232.59" cy="113.86" r="1.2" fill="#a060e0" />
<circle cx="233.19" cy="115.02" r="1.2" fill="#a060e0" />
<circle cx="233.67" cy="115.87" r="1.2" fill="#a060e0" />
<circle cx="234.07" cy="116.44" r="1.2" fill="#a060e0" />
<circle cx="234.42" cy="116.78" r="1.2" fill="#a060e0" />
<circle cx="234.75" cy="116.92" r="1.2" fill="#a060e0" />
<circle cx="235.07" cy="116.85" r="1.2" fill="#a060e0" />
<circle cx="235.42" cy="116.57" r="1.2" fill="#a060e0" />
<circle cx="235.81" cy="116.08" r="1.2" fill="#a060e0" />
<circle cx="236.26" cy="115.35" r="1.2" fill="#a060e0" />
<circle cx="236.8" cy="114.34" r="1.2" fill="#a060e0" />
<circle cx="237.47" cy="112.98" r="1.2" fill="#a060e0" />
<circle cx="238.3" cy="111.22" r="1.2" fill="#a060e0" />
<circle cx="239.35" cy="108.93" r="1.2" fill="#a060e0" />
<circle cx="240.66" cy="106" r="1.2" fill="#a060e0" />
<circle cx="242.31" cy="102.26" r="1.2" fill="#a060e0" />
<circle cx="244.41" cy="97.49" r="1.2" fill="#a060e0" />
<circle cx="247.07" cy="91.43" r="1.2" fill="#a060e0" />
<circle cx="250.43" cy="83.73" r="1.2" fill="#a060e0" />
<circle cx="254.7" cy="73.94" r="1.2" fill="#a060e0" />
<rect x="136.32" y="104.93" width="2.1" height="2.1" fill="#1aa050" />
<rect x="138.96" y="102.59" width="2.1" height="2.1" fill="#1aa050" />
<rect x="142.22" y="100.28" width="2.1" height="2.1" fill="#1aa050" />
<rect x="146.12" y="98.19" width="2.1" height="2.1" fill="#1aa050" />
<rect x="150.61" y="96.58" width="2.1" height="2.1" fill="#1aa050" />
<rect x="155.51" y="95.65" width="2.1" height="2.1" fill="#1aa050" />
<rect x="160.58" y="95.57" width="2.1" height="2.1" fill="#1aa050" />
<rect x="165.53" y="96.33" width="2.1" height="2.1" fill="#1aa050" />
<rect x="170.11" y="97.83" width="2.1" height="2.1" fill="#1aa050" />
<rect x="174.14" y="99.84" width="2.1" height="2.1" fill="#1aa050" />
<rect x="177.53" y="102.13" width="2.1" height="2.1" fill="#1aa050" />
<rect x="180.29" y="104.48" width="2.1" height="2.1" fill="#1aa050" />
<rect x="182.48" y="106.72" width="2.1" height="2.1" fill="#1aa050" />
<rect x="184.2" y="108.78" width="2.1" height="2.1" fill="#1aa050" />
<rect x="185.53" y="110.59" width="2.1" height="2.1" fill="#1aa050" />
<rect x="186.55" y="112.14" width="2.1" height="2.1" fill="#1aa050" />
<rect x="187.34" y="113.45" width="2.1" height="2.1" fill="#1aa050" />
<rect x="187.95" y="114.53" width="2.1" height="2.1" fill="#1aa050" />
<rect x="188.41" y="115.43" width="2.1" height="2.1" fill="#1aa050" />
<rect x="188.78" y="116.16" width="2.1" height="2.1" fill="#1aa050" />
<rect x="189.06" y="116.75" width="2.1" height="2.1" fill="#1aa050" />
<rect x="189.28" y="117.23" width="2.1" height="2.1" fill="#1aa050" />
<rect x="189.45" y="117.62" width="2.1" height="2.1" fill="#1aa050" />
<rect x="189.59" y="117.92" width="2.1" height="2.1" fill="#1aa050" />
<rect x="189.69" y="118.17" width="2.1" height="2.1" fill="#1aa050" />
<rect x="189.77" y="118.37" width="2.1" height="2.1" fill="#1aa050" />
<rect x="189.84" y="118.53" width="2.1" height="2.1" fill="#1aa050" />
<rect x="189.89" y="118.65" width="2.1" height="2.1" fill="#1aa050" />
<rect x="189.93" y="118.75" width="2.1" height="2.1" fill="#1aa050" />
<rect x="189.97" y="118.83" width="2.1" height="2.1" fill="#1aa050" />
<rect x="189.99" y="118.9" width="2.1" height="2.1" fill="#1aa050" />
<rect x="190.02" y="118.95" width="2.1" height="2.1" fill="#1aa050" />
<rect x="190.03" y="118.99" width="2.1" height="2.1" fill="#1aa050" />
<rect x="190.05" y="119.02" width="2.1" height="2.1" fill="#1aa050" />
<rect x="190.06" y="119.04" width="2.1" height="2.1" fill="#1aa050" />
<rect x="190.07" y="119.06" width="2.1" height="2.1" fill="#1aa050" />
<rect x="190.07" y="119.08" width="2.1" height="2.1" fill="#1aa050" />
<rect x="190.08" y="119.09" width="2.1" height="2.1" fill="#1aa050" />
<rect x="190.09" y="119.1" width="2.1" height="2.1" fill="#1aa050" />
<rect x="190.09" y="119.11" width="2.1" height="2.1" fill="#1aa050" />
<rect x="190.09" y="119.11" width="2.1" height="2.1" fill="#1aa050" />
<rect x="190.1" y="119.11" width="2.1" height="2.1" fill="#1aa050" />
<rect x="190.1" y="119.11" width="2.1" height="2.1" fill="#1aa050" />
<rect x="190.11" y="119.11" width="2.1" height="2.1" fill="#1aa050" />
<rect x="190.11" y="119.11" width="2.1" height="2.1" fill="#1aa050" />
<rect x="190.12" y="119.11" width="2.1" height="2.1" fill="#1aa050" />
<rect x="190.12" y="119.11" width="2.1" height="2.1" fill="#1aa050" />
<rect x="190.13" y="119.1" width="2.1" height="2.1" fill="#1aa050" />
<rect x="190.14" y="119.09" width="2.1" height="2.1" fill="#1aa050" />
<rect x="190.14" y="119.09" width="2.1" height="2.1" fill="#1aa050" />
<rect x="190.15" y="119.08" width="2.1" height="2.1" fill="#1aa050" />
<rect x="190.16" y="119.07" width="2.1" height="2.1" fill="#1aa050" />
<rect x="190.18" y="119.05" width="2.1" height="2.1" fill="#1aa050" />
<rect x="190.19" y="119.04" width="2.1" height="2.1" fill="#1aa050" />
<rect x="190.21" y="119.02" width="2.1" height="2.1" fill="#1aa050" />
<rect x="190.23" y="119" width="2.1" height="2.1" fill="#1aa050" />
<rect x="190.25" y="118.98" width="2.1" height="2.1" fill="#1aa050" />
<rect x="190.27" y="118.95" width="2.1" height="2.1" fill="#1aa050" />
<rect x="190.3" y="118.92" width="2.1" height="2.1" fill="#1aa050" />
<rect x="190.34" y="118.88" width="2.1" height="2.1" fill="#1aa050" />
<rect x="190.38" y="118.83" width="2.1" height="2.1" fill="#1aa050" />
<rect x="190.43" y="118.78" width="2.1" height="2.1" fill="#1aa050" />
<rect x="190.48" y="118.72" width="2.1" height="2.1" fill="#1aa050" />
<rect x="190.55" y="118.65" width="2.1" height="2.1" fill="#1aa050" />
<rect x="190.62" y="118.57" width="2.1" height="2.1" fill="#1aa050" />
<rect x="190.71" y="118.47" width="2.1" height="2.1" fill="#1aa050" />
<rect x="190.81" y="118.36" width="2.1" height="2.1" fill="#1aa050" />
<rect x="190.93" y="118.23" width="2.1" height="2.1" fill="#1aa050" />
<rect x="191.06" y="118.08" width="2.1" height="2.1" fill="#1aa050" />
<rect x="191.22" y="117.91" width="2.1" height="2.1" fill="#1aa050" />
<rect x="191.41" y="117.7" width="2.1" height="2.1" fill="#1aa050" />
<rect x="191.62" y="117.46" width="2.1" height="2.1" fill="#1aa050" />
<rect x="191.88" y="117.19" width="2.1" height="2.1" fill="#1aa050" />
<rect x="192.17" y="116.87" width="2.1" height="2.1" fill="#1aa050" />
<rect x="192.51" y="116.49" width="2.1" height="2.1" fill="#1aa050" />
<rect x="192.91" y="116.06" width="2.1" height="2.1" fill="#1aa050" />
<rect x="193.37" y="115.55" width="2.1" height="2.1" fill="#1aa050" />
<rect x="193.9" y="114.96" width="2.1" height="2.1" fill="#1aa050" />
<rect x="194.53" y="114.27" width="2.1" height="2.1" fill="#1aa050" />
<rect x="195.26" y="113.47" width="2.1" height="2.1" fill="#1aa050" />
<rect x="196.11" y="112.54" width="2.1" height="2.1" fill="#1aa050" />
<rect x="197.09" y="111.45" width="2.1" height="2.1" fill="#1aa050" />
<rect x="198.24" y="110.19" width="2.1" height="2.1" fill="#1aa050" />
<rect x="199.58" y="108.72" width="2.1" height="2.1" fill="#1aa050" />
<rect x="201.14" y="107.01" width="2.1" height="2.1" fill="#1aa050" />
<rect x="202.95" y="105.02" width="2.1" height="2.1" fill="#1aa050" />
<rect x="205.06" y="102.7" width="2.1" height="2.1" fill="#1aa050" />
<circle cx="133.74" cy="119.96" r="1.1" fill="#1f6fe0" />
<circle cx="133.79" cy="119.91" r="1.1" fill="#1f6fe0" />
<circle cx="133.84" cy="119.84" r="1.1" fill="#1f6fe0" />
<circle cx="133.9" cy="119.76" r="1.1" fill="#1f6fe0" />
<circle cx="133.98" cy="119.66" r="1.1" fill="#1f6fe0" />
<circle cx="134.08" cy="119.54" r="1.1" fill="#1f6fe0" />
<circle cx="134.21" cy="119.41" r="1.1" fill="#1f6fe0" />
<circle cx="134.37" cy="119.24" r="1.1" fill="#1f6fe0" />
<circle cx="134.57" cy="119.06" r="1.1" fill="#1f6fe0" />
<circle cx="134.81" cy="118.86" r="1.1" fill="#1f6fe0" />
<circle cx="135.11" cy="118.65" r="1.1" fill="#1f6fe0" />
<circle cx="135.46" cy="118.45" r="1.1" fill="#1f6fe0" />
<circle cx="135.88" cy="118.25" r="1.1" fill="#1f6fe0" />
<circle cx="136.34" cy="118.1" r="1.1" fill="#1f6fe0" />
<circle cx="136.85" cy="117.99" r="1.1" fill="#1f6fe0" />
<circle cx="137.39" cy="117.95" r="1.1" fill="#1f6fe0" />
<circle cx="137.92" cy="117.97" r="1.1" fill="#1f6fe0" />
<circle cx="138.43" cy="118.06" r="1.1" fill="#1f6fe0" />
<circle cx="138.9" cy="118.19" r="1.1" fill="#1f6fe0" />
<circle cx="139.33" cy="118.35" r="1.1" fill="#1f6fe0" />
<circle cx="139.7" cy="118.52" r="1.1" fill="#1f6fe0" />
<circle cx="140.02" cy="118.69" r="1.1" fill="#1f6fe0" />
<circle cx="140.3" cy="118.84" r="1.1" fill="#1f6fe0" />
<circle cx="140.54" cy="118.97" r="1.1" fill="#1f6fe0" />
<circle cx="140.76" cy="119.07" r="1.1" fill="#1f6fe0" />
<circle cx="140.95" cy="119.14" r="1.1" fill="#1f6fe0" />
<circle cx="141.14" cy="119.19" r="1.1" fill="#1f6fe0" />
<circle cx="141.32" cy="119.22" r="1.1" fill="#1f6fe0" />
<circle cx="141.49" cy="119.22" r="1.1" fill="#1f6fe0" />
<circle cx="141.67" cy="119.19" r="1.1" fill="#1f6fe0" />
<circle cx="141.86" cy="119.15" r="1.1" fill="#1f6fe0" />
<circle cx="142.06" cy="119.08" r="1.1" fill="#1f6fe0" />
<circle cx="142.28" cy="119" r="1.1" fill="#1f6fe0" />
<circle cx="142.52" cy="118.89" r="1.1" fill="#1f6fe0" />
<circle cx="142.77" cy="118.76" r="1.1" fill="#1f6fe0" />
<circle cx="143.06" cy="118.62" r="1.1" fill="#1f6fe0" />
<circle cx="143.38" cy="118.44" r="1.1" fill="#1f6fe0" />
<circle cx="143.73" cy="118.25" r="1.1" fill="#1f6fe0" />
<circle cx="144.13" cy="118.02" r="1.1" fill="#1f6fe0" />
<circle cx="144.57" cy="117.76" r="1.1" fill="#1f6fe0" />
<circle cx="145.06" cy="117.48" r="1.1" fill="#1f6fe0" />
<circle cx="145.61" cy="117.15" r="1.1" fill="#1f6fe0" />
<circle cx="146.23" cy="116.78" r="1.1" fill="#1f6fe0" />
<circle cx="146.93" cy="116.37" r="1.1" fill="#1f6fe0" />
<circle cx="147.71" cy="115.91" r="1.1" fill="#1f6fe0" />
<circle cx="148.58" cy="115.39" r="1.1" fill="#1f6fe0" />
<circle cx="149.56" cy="114.8" r="1.1" fill="#1f6fe0" />
</g>
<rect x="130.6" y="25.1" width="121.20000000000002" height="95.1" fill="none" stroke="#8a8a8a" stroke-width="0.9"/>
<line x1="130.6" y1="25.1" x2="130.6" y2="120.2" stroke="#000" stroke-width="1.0" />
<line x1="130.6" y1="120.2" x2="251.8" y2="120.2" stroke="#000" stroke-width="1.0" />
<line x1="129.1" y1="120.2" x2="130.6" y2="120.2" stroke="#000" stroke-width="0.6" />
<text x="128.4" y="121.8" font-size="4.5" text-anchor="end" font-weight="bold" font-style="normal" font-family='"Liberation Serif", serif' fill="#222" >0</text>
<line x1="129.1" y1="104.35" x2="130.6" y2="104.35" stroke="#000" stroke-width="0.6" />
<text x="128.4" y="105.95" font-size="4.5" text-anchor="end" font-weight="bold" font-style="normal" font-family='"Liberation Serif", serif' fill="#222" >500</text>
<line x1="129.1" y1="88.5" x2="130.6" y2="88.5" stroke="#000" stroke-width="0.6" />
<text x="128.4" y="90.1" font-size="4.5" text-anchor="end" font-weight="bold" font-style="normal" font-family='"Liberation Serif", serif' fill="#222" >1000</text>
<line x1="129.1" y1="72.65" x2="130.6" y2="72.65" stroke="#000" stroke-width="0.6" />
<text x="128.4" y="74.25" font-size="4.5" text-anchor="end" font-weight="bold" font-style="normal" font-family='"Liberation Serif", serif' fill="#222" >1500</text>
<line x1="129.1" y1="56.8" x2="130.6" y2="56.8" stroke="#000" stroke-width="0.6" />
<text x="128.4" y="58.4" font-size="4.5" text-anchor="end" font-weight="bold" font-style="normal" font-family='"Liberation Serif", serif' fill="#222" >2000</text>
<line x1="129.1" y1="40.95" x2="130.6" y2="40.95" stroke="#000" stroke-width="0.6" />
<text x="128.4" y="42.55" font-size="4.5" text-anchor="end" font-weight="bold" font-style="normal" font-family='"Liberation Serif", serif' fill="#222" >2500</text>
<line x1="129.1" y1="25.1" x2="130.6" y2="25.1" stroke="#000" stroke-width="0.6" />
<text x="128.4" y="26.7" font-size="4.5" text-anchor="end" font-weight="bold" font-style="normal" font-family='"Liberation Serif", serif' fill="#222" >3000</text>
<line x1="130.6" y1="120.2" x2="130.6" y2="121.7" stroke="#000" stroke-width="0.6" />
<text x="130.6" y="126.1" font-size="4.5" text-anchor="middle" font-weight="bold" font-style="normal" font-family='"Liberation Serif", serif' fill="#222" >0</text>
<line x1="144.07" y1="120.2" x2="144.07" y2="121.7" stroke="#000" stroke-width="0.6" />
<text x="144.07" y="126.1" font-size="4.5" text-anchor="middle" font-weight="bold" font-style="normal" font-family='"Liberation Serif", serif' fill="#222" >500</text>
<line x1="157.53" y1="120.2" x2="157.53" y2="121.7" stroke="#000" stroke-width="0.6" />
<text x="157.53" y="126.1" font-size="4.5" text-anchor="middle" font-weight="bold" font-style="normal" font-family='"Liberation Serif", serif' fill="#222" >1000</text>
<line x1="171" y1="120.2" x2="171" y2="121.7" stroke="#000" stroke-width="0.6" />
<text x="171" y="126.1" font-size="4.5" text-anchor="middle" font-weight="bold" font-style="normal" font-family='"Liberation Serif", serif' fill="#222" >1500</text>
<line x1="184.47" y1="120.2" x2="184.47" y2="121.7" stroke="#000" stroke-width="0.6" />
<text x="184.47" y="126.1" font-size="4.5" text-anchor="middle" font-weight="bold" font-style="normal" font-family='"Liberation Serif", serif' fill="#222" >2000</text>
<line x1="197.93" y1="120.2" x2="197.93" y2="121.7" stroke="#000" stroke-width="0.6" />
<text x="197.93" y="126.1" font-size="4.5" text-anchor="middle" font-weight="bold" font-style="normal" font-family='"Liberation Serif", serif' fill="#222" >2500</text>
<line x1="211.4" y1="120.2" x2="211.4" y2="121.7" stroke="#000" stroke-width="0.6" />
<text x="211.4" y="126.1" font-size="4.5" text-anchor="middle" font-weight="bold" font-style="normal" font-family='"Liberation Serif", serif' fill="#222" >3000</text>
<line x1="224.87" y1="120.2" x2="224.87" y2="121.7" stroke="#000" stroke-width="0.6" />
<text x="224.87" y="126.1" font-size="4.5" text-anchor="middle" font-weight="bold" font-style="normal" font-family='"Liberation Serif", serif' fill="#222" >3500</text>
<line x1="238.33" y1="120.2" x2="238.33" y2="121.7" stroke="#000" stroke-width="0.6" />
<text x="238.33" y="126.1" font-size="4.5" text-anchor="middle" font-weight="bold" font-style="normal" font-family='"Liberation Serif", serif' fill="#222" >4000</text>
<line x1="251.8" y1="120.2" x2="251.8" y2="121.7" stroke="#000" stroke-width="0.6" />
<text x="251.8" y="126.1" font-size="4.5" text-anchor="middle" font-weight="bold" font-style="normal" font-family='"Liberation Serif", serif' fill="#222" >4500</text>
<text transform="translate(115.6,70) rotate(-90)" font-size="4.6" font-weight="bold" text-anchor="middle" font-family='"Liberation Serif", serif'>−<tspan font-style="italic">Z″</tspan> (Ω)</text>
<text x="191" y="131" font-size="4.6" font-weight="bold" text-anchor="middle" font-family='"Liberation Serif", serif'><tspan font-style="italic">Z′</tspan> (Ω)</text>
</g>
<g id="pb">
<clipPath id="cb"><rect x="333.8" y="22.0" width="198.2" height="160.5"/></clipPath>
<g clip-path="url(#cb)">
<polyline points="348.5,179.6 351,178.9 354,178.3 357.5,178.2 361,178.7 364.5,179.6 367.5,179.9" fill="none" stroke="#000080" stroke-width="3.7" stroke-linejoin="round" stroke-linecap="round"/>
<path d="M345.19,179.5L349.28,177.19L349.28,181.81Z" fill="#000080" />
<path d="M365.9,172.6L362,170.4L362,174.8Z" fill="#8010ff" />
<path d="M366.7,173.6L362.8,171.4L362.8,175.8Z" fill="#8010ff" />
<path d="M367.7,174.8L363.8,172.6L363.8,177Z" fill="#8010ff" />
<path d="M368.8,176L364.9,173.8L364.9,178.2Z" fill="#8010ff" />
<path d="M369.9,177L366,174.8L366,179.2Z" fill="#8010ff" />
<polyline points="368,178.2 371,178.6 376,178.4 383,176.7 390,174.9 398,172.6 405,170.2 412,167.6" fill="none" stroke="#8010ff" stroke-width="4.4" stroke-linejoin="round" stroke-linecap="round"/>
<polyline points="368,178.2 371,178.6 376,178.4 383,176.7 390,174.9 398,172.6 405,170.2 412,167.6 418.2,165.3 444.9,158.9" fill="none" stroke="#8010ff" stroke-width="0.6" stroke-linejoin="round" />
<path d="M414.3,167.6L410.4,165.4L410.4,169.8Z" fill="#8010ff" />
<path d="M417.3,166.49L413.4,164.29L413.4,168.69Z" fill="#8010ff" />
<path d="M420.3,165.37L416.4,163.17L416.4,167.57Z" fill="#8010ff" />
<path d="M423.4,164.6L419.5,162.4L419.5,166.8Z" fill="#8010ff" />
<path d="M426.52,163.86L422.62,161.66L422.62,166.06Z" fill="#8010ff" />
<path d="M429.63,163.11L425.73,160.91L425.73,165.31Z" fill="#8010ff" />
<path d="M432.74,162.37L428.84,160.17L428.84,164.57Z" fill="#8010ff" />
<path d="M435.85,161.62L431.95,159.42L431.95,163.82Z" fill="#8010ff" />
<path d="M438.96,160.87L435.06,158.67L435.06,163.07Z" fill="#8010ff" />
<path d="M442.08,160.13L438.18,157.93L438.18,162.33Z" fill="#8010ff" />
<path d="M445.19,159.38L441.29,157.18L441.29,161.58Z" fill="#8010ff" />
<polyline points="348.5,179.6 351,178.9 354,178.3 357.5,178.2 361,178.7 364.5,179.6 367.5,179.9 439.5,158.3" fill="none" stroke="#000080" stroke-width="0.6" stroke-linejoin="round" />
<path d="M365.72,178.9L368.74,177.19L368.74,180.61Z" fill="#000080" />
<path d="M368.7,178.05L371.72,176.34L371.72,179.75Z" fill="#000080" />
<path d="M371.68,177.19L374.7,175.49L374.7,178.9Z" fill="#000080" />
<path d="M374.66,176.34L377.68,174.64L377.68,178.05Z" fill="#000080" />
<path d="M377.64,175.49L380.66,173.78L380.66,177.19Z" fill="#000080" />
<path d="M380.62,174.64L383.64,172.93L383.64,176.34Z" fill="#000080" />
<path d="M383.6,173.78L386.62,172.08L386.62,175.49Z" fill="#000080" />
<path d="M386.58,172.93L389.6,171.23L389.6,174.64Z" fill="#000080" />
<path d="M389.56,172.08L392.58,170.37L392.58,173.78Z" fill="#000080" />
<path d="M392.54,171.23L395.56,169.52L395.56,172.93Z" fill="#000080" />
<path d="M395.52,170.37L398.54,168.67L398.54,172.08Z" fill="#000080" />
<path d="M398.5,169.52L401.52,167.81L401.52,171.22Z" fill="#000080" />
<path d="M401.48,168.67L404.5,166.96L404.5,170.37Z" fill="#000080" />
<path d="M404.46,167.81L407.49,166.11L407.49,169.52Z" fill="#000080" />
<path d="M407.44,166.96L410.47,165.26L410.47,168.67Z" fill="#000080" />
<path d="M410.42,166.11L413.45,164.4L413.45,167.81Z" fill="#000080" />
<path d="M413.4,165.26L416.43,163.55L416.43,166.96Z" fill="#000080" />
<path d="M416.38,164.4L419.41,162.7L419.41,166.11Z" fill="#000080" />
<path d="M419.36,163.55L422.39,161.85L422.39,165.26Z" fill="#000080" />
<path d="M422.35,162.7L425.37,160.99L425.37,164.4Z" fill="#000080" />
<path d="M425.33,161.85L428.35,160.14L428.35,163.55Z" fill="#000080" />
<path d="M428.31,160.99L431.33,159.29L431.33,162.7Z" fill="#000080" />
<path d="M431.29,160.14L434.31,158.43L434.31,161.84Z" fill="#000080" />
<path d="M434.27,159.29L437.29,157.58L437.29,160.99Z" fill="#000080" />
<path d="M437.25,158.43L440.27,156.73L440.27,160.14Z" fill="#000080" />
<polyline points="385.8,181.6 393,179.2 400,176.8 407,174.8 414,173.6 421,173.2 428,173.3 434,174.2 439,175.6 442,175 444.5,171.5 446.5,168.2 448.5,165.6" fill="none" stroke="#ff1010" stroke-width="4.4" stroke-linejoin="round" stroke-linecap="round"/>
<polyline points="385.8,181.6 393,179.2 400,176.8 407,174.8 414,173.6 421,173.2 428,173.3 434,174.2 439,175.6 442,175 444.5,171.5 446.5,168.2 448.5,165.6 450.4,163.9 452,159.9 453.4,155.9 455,151.5 457,145.9 459.4,138.5 461.6,130.9 465,120.6 468.9,108.4" fill="none" stroke="#ff1010" stroke-width="0.7" stroke-linejoin="round" />
<circle cx="450.4" cy="163.9" r="2.3" fill="#ff1010" />
<circle cx="452" cy="159.9" r="2.3" fill="#ff1010" />
<circle cx="453.4" cy="155.9" r="2.3" fill="#ff1010" />
<circle cx="455" cy="151.5" r="2.3" fill="#ff1010" />
<circle cx="457" cy="145.9" r="2.3" fill="#ff1010" />
<circle cx="459.4" cy="138.5" r="2.3" fill="#ff1010" />
<circle cx="461.6" cy="130.9" r="2.3" fill="#ff1010" />
<circle cx="465" cy="120.6" r="2.3" fill="#ff1010" />
<circle cx="468.9" cy="108.4" r="2.3" fill="#ff1010" />
<polyline points="390.7,147.1 403.7,149.5 413.9,153.2 422.6,157.5 427.7,161.9 432.1,166.3 435,170.6 437.5,174.5 437.5,174.5 440,178.5 444,181 450,181.2 456,179.5 462,176 468,171.5 474,166.8 479,163.5 480.9,161.9 486.9,158.9 492.9,154.9 499.9,150.9 508.9,146.3 518.8,140.9 531.8,135.5" fill="none" stroke="#ff10ff" stroke-width="0.7" stroke-linejoin="round" />
<polyline points="437.5,174.5 440,178.5 444,181 450,181.2 456,179.5 462,176 468,171.5 474,166.8 479,163.5" fill="none" stroke="#ff10ff" stroke-width="3.4" stroke-linejoin="round" stroke-linecap="round"/>
<path d="M390.7,149.75L393.23,145.26L388.17,145.26Z" fill="#ff10ff" />
<path d="M403.7,152.15L406.23,147.66L401.17,147.66Z" fill="#ff10ff" />
<path d="M413.9,155.84L416.43,151.36L411.37,151.36Z" fill="#ff10ff" />
<path d="M422.6,160.15L425.13,155.66L420.07,155.66Z" fill="#ff10ff" />
<path d="M427.7,164.55L430.23,160.06L425.17,160.06Z" fill="#ff10ff" />
<path d="M432.1,168.95L434.63,164.46L429.57,164.46Z" fill="#ff10ff" />
<path d="M435,173.25L437.53,168.76L432.47,168.76Z" fill="#ff10ff" />
<path d="M437.5,177.15L440.03,172.66L434.97,172.66Z" fill="#ff10ff" />
<path d="M480.9,164.55L483.43,160.06L478.37,160.06Z" fill="#ff10ff" />
<path d="M486.9,161.55L489.43,157.06L484.37,157.06Z" fill="#ff10ff" />
<path d="M492.9,157.55L495.43,153.06L490.37,153.06Z" fill="#ff10ff" />
<path d="M499.9,153.55L502.43,149.06L497.37,149.06Z" fill="#ff10ff" />
<path d="M508.9,148.95L511.43,144.46L506.37,144.46Z" fill="#ff10ff" />
<path d="M518.8,143.55L521.33,139.06L516.27,139.06Z" fill="#ff10ff" />
<path d="M531.8,138.15L534.33,133.66L529.27,133.66Z" fill="#ff10ff" />
<polyline points="375.4,153.3 385.8,154.7 394.5,156.6 401.8,158.8 406.9,161.5 411,164.5 414.5,167.5 418,170.5 421,173.2 424,175.6 424,175.6 428,178.5 432,180.5 436,180.2 440,177.5 443,173.5 446,170.2 448,168.5 451,165.9 454.4,162.5 458.6,158.9 464,153.9 469.9,148.9 477.5,142.9 486.5,135.9 496.9,126.5 507.9,116" fill="none" stroke="#1020ff" stroke-width="0.7" stroke-linejoin="round" />
<polyline points="424,175.6 428,178.5 432,180.5 436,180.2 440,177.5 443,173.5 446,170.2" fill="none" stroke="#1020ff" stroke-width="4.0" stroke-linejoin="round" stroke-linecap="round"/>
<path d="M375.4,150.66L377.93,155.14L372.87,155.14Z" fill="#1020ff" />
<path d="M385.8,152.05L388.33,156.54L383.27,156.54Z" fill="#1020ff" />
<path d="M394.5,153.95L397.03,158.44L391.97,158.44Z" fill="#1020ff" />
<path d="M401.8,156.16L404.33,160.64L399.27,160.64Z" fill="#1020ff" />
<path d="M406.9,158.85L409.43,163.34L404.37,163.34Z" fill="#1020ff" />
<path d="M411,161.85L413.53,166.34L408.47,166.34Z" fill="#1020ff" />
<path d="M414.5,164.85L417.03,169.34L411.97,169.34Z" fill="#1020ff" />
<path d="M418,167.85L420.53,172.34L415.47,172.34Z" fill="#1020ff" />
<path d="M421,170.55L423.53,175.04L418.47,175.04Z" fill="#1020ff" />
<path d="M424,172.95L426.53,177.44L421.47,177.44Z" fill="#1020ff" />
<path d="M448,165.85L450.53,170.34L445.47,170.34Z" fill="#1020ff" />
<path d="M451,163.25L453.53,167.74L448.47,167.74Z" fill="#1020ff" />
<path d="M454.4,159.85L456.93,164.34L451.87,164.34Z" fill="#1020ff" />
<path d="M458.6,156.25L461.13,160.74L456.07,160.74Z" fill="#1020ff" />
<path d="M464,151.25L466.53,155.74L461.47,155.74Z" fill="#1020ff" />
<path d="M469.9,146.25L472.43,150.74L467.37,150.74Z" fill="#1020ff" />
<path d="M477.5,140.25L480.03,144.74L474.97,144.74Z" fill="#1020ff" />
<path d="M486.5,133.25L489.03,137.74L483.97,137.74Z" fill="#1020ff" />
<path d="M496.9,123.86L499.43,128.34L494.37,128.34Z" fill="#1020ff" />
<path d="M507.9,113.36L510.43,117.84L505.37,117.84Z" fill="#1020ff" />
<polyline points="385.8,152.2 396.7,155.5 404.7,160.2 409.8,163.8 414.9,168.9 417.8,173.3 417.8,173.3 420,176.5 426,177.5 434,177.8 442,178.5 448,177.5 454,175 460,171.5 466,167.8 468.3,166.5 472.3,164.3 476.9,161.9 481.9,158.9 487.5,155.5 494.3,151.5 501.9,146.9 510.3,141.9 520.8,135.9 531.8,129.5" fill="none" stroke="#14821e" stroke-width="0.7" stroke-linejoin="round" />
<polyline points="417.8,173.3 420,176.5 426,177.5 434,177.8 442,178.5 448,177.5 454,175 460,171.5 466,167.8 468.3,166.5" fill="none" stroke="#14821e" stroke-width="3.7" stroke-linejoin="round" stroke-linecap="round"/>
<path d="M385.8,149.45L388.55,152.2L385.8,154.95L383.05,152.2Z" fill="#14821e" />
<path d="M396.7,152.75L399.45,155.5L396.7,158.25L393.95,155.5Z" fill="#14821e" />
<path d="M404.7,157.45L407.45,160.2L404.7,162.95L401.95,160.2Z" fill="#14821e" />
<path d="M409.8,161.05L412.55,163.8L409.8,166.55L407.05,163.8Z" fill="#14821e" />
<path d="M414.9,166.15L417.65,168.9L414.9,171.65L412.15,168.9Z" fill="#14821e" />
<path d="M417.8,170.55L420.55,173.3L417.8,176.05L415.05,173.3Z" fill="#14821e" />
<path d="M472.3,161.55L475.05,164.3L472.3,167.05L469.55,164.3Z" fill="#14821e" />
<path d="M476.9,159.15L479.65,161.9L476.9,164.65L474.15,161.9Z" fill="#14821e" />
<path d="M481.9,156.15L484.65,158.9L481.9,161.65L479.15,158.9Z" fill="#14821e" />
<path d="M487.5,152.75L490.25,155.5L487.5,158.25L484.75,155.5Z" fill="#14821e" />
<path d="M494.3,148.75L497.05,151.5L494.3,154.25L491.55,151.5Z" fill="#14821e" />
<path d="M501.9,144.15L504.65,146.9L501.9,149.65L499.15,146.9Z" fill="#14821e" />
<path d="M510.3,139.15L513.05,141.9L510.3,144.65L507.55,141.9Z" fill="#14821e" />
<path d="M520.8,133.15L523.55,135.9L520.8,138.65L518.05,135.9Z" fill="#14821e" />
<path d="M531.8,126.75L534.55,129.5L531.8,132.25L529.05,129.5Z" fill="#14821e" />
</g>
<rect x="333.8" y="22.0" width="198.2" height="160.5" fill="none" stroke="#000" stroke-width="1.4"/>
<line x1="330.8" y1="182.5" x2="333.8" y2="182.5" stroke="#000" stroke-width="1.4" />
<text x="328.6" y="186.8" font-size="10.2" text-anchor="end" font-weight="bold" font-style="normal" font-family='"Liberation Serif", serif' fill="#000" >0</text>
<line x1="333.8" y1="182.5" x2="333.8" y2="185.5" stroke="#000" stroke-width="1.4" />
<text x="333.8" y="197" font-size="10.2" text-anchor="middle" font-weight="bold" font-style="normal" font-family='"Liberation Serif", serif' fill="#000" >0</text>
<line x1="330.8" y1="150.4" x2="333.8" y2="150.4" stroke="#000" stroke-width="1.4" />
<text x="328.6" y="154.7" font-size="10.2" text-anchor="end" font-weight="bold" font-style="normal" font-family='"Liberation Serif", serif' fill="#000" >400</text>
<line x1="373.44" y1="182.5" x2="373.44" y2="185.5" stroke="#000" stroke-width="1.4" />
<text x="373.44" y="197" font-size="10.2" text-anchor="middle" font-weight="bold" font-style="normal" font-family='"Liberation Serif", serif' fill="#000" >400</text>
<line x1="330.8" y1="118.3" x2="333.8" y2="118.3" stroke="#000" stroke-width="1.4" />
<text x="328.6" y="122.6" font-size="10.2" text-anchor="end" font-weight="bold" font-style="normal" font-family='"Liberation Serif", serif' fill="#000" >800</text>
<line x1="413.08" y1="182.5" x2="413.08" y2="185.5" stroke="#000" stroke-width="1.4" />
<text x="413.08" y="197" font-size="10.2" text-anchor="middle" font-weight="bold" font-style="normal" font-family='"Liberation Serif", serif' fill="#000" >800</text>
<line x1="330.8" y1="86.2" x2="333.8" y2="86.2" stroke="#000" stroke-width="1.4" />
<text x="328.6" y="90.5" font-size="10.2" text-anchor="end" font-weight="bold" font-style="normal" font-family='"Liberation Serif", serif' fill="#000" >1200</text>
<line x1="452.72" y1="182.5" x2="452.72" y2="185.5" stroke="#000" stroke-width="1.4" />
<text x="452.72" y="197" font-size="10.2" text-anchor="middle" font-weight="bold" font-style="normal" font-family='"Liberation Serif", serif' fill="#000" >1200</text>
<line x1="330.8" y1="54.1" x2="333.8" y2="54.1" stroke="#000" stroke-width="1.4" />
<text x="328.6" y="58.4" font-size="10.2" text-anchor="end" font-weight="bold" font-style="normal" font-family='"Liberation Serif", serif' fill="#000" >1600</text>
<line x1="492.36" y1="182.5" x2="492.36" y2="185.5" stroke="#000" stroke-width="1.4" />
<text x="492.36" y="197" font-size="10.2" text-anchor="middle" font-weight="bold" font-style="normal" font-family='"Liberation Serif", serif' fill="#000" >1600</text>
<line x1="330.8" y1="22" x2="333.8" y2="22" stroke="#000" stroke-width="1.4" />
<text x="328.6" y="26.3" font-size="10.2" text-anchor="end" font-weight="bold" font-style="normal" font-family='"Liberation Serif", serif' fill="#000" >2000</text>
<line x1="532" y1="182.5" x2="532" y2="185.5" stroke="#000" stroke-width="1.4" />
<text x="532" y="197" font-size="10.2" text-anchor="middle" font-weight="bold" font-style="normal" font-family='"Liberation Serif", serif' fill="#000" >2000</text>
<line x1="332" y1="166.45" x2="333.8" y2="166.45" stroke="#000" stroke-width="1.0" />
<line x1="353.62" y1="182.5" x2="353.62" y2="184.3" stroke="#000" stroke-width="1.0" />
<line x1="332" y1="134.35" x2="333.8" y2="134.35" stroke="#000" stroke-width="1.0" />
<line x1="393.26" y1="182.5" x2="393.26" y2="184.3" stroke="#000" stroke-width="1.0" />
<line x1="332" y1="102.25" x2="333.8" y2="102.25" stroke="#000" stroke-width="1.0" />
<line x1="432.9" y1="182.5" x2="432.9" y2="184.3" stroke="#000" stroke-width="1.0" />
<line x1="332" y1="70.15" x2="333.8" y2="70.15" stroke="#000" stroke-width="1.0" />
<line x1="472.54" y1="182.5" x2="472.54" y2="184.3" stroke="#000" stroke-width="1.0" />
<line x1="332" y1="38.05" x2="333.8" y2="38.05" stroke="#000" stroke-width="1.0" />
<line x1="512.18" y1="182.5" x2="512.18" y2="184.3" stroke="#000" stroke-width="1.0" />
<text transform="translate(302.6,103.2) rotate(-90)" font-size="10.6" text-anchor="middle" font-weight="bold" font-family='"Liberation Serif", serif'>−<tspan font-style="italic">Z″</tspan> (Ω)</text>
<text x="433" y="213.9" font-size="11" text-anchor="middle" font-weight="bold" font-family='"Liberation Serif", serif'><tspan font-style="italic">Z′</tspan> (Ω)</text>
<text x="289.2" y="17.2" font-size="13.5" text-anchor="start" font-weight="bold" font-style="normal" font-family='"Liberation Serif", serif' fill="#000" >(b)</text>
<line x1="340.3" y1="32.4" x2="357.2" y2="32.4" stroke="#ff7070" stroke-width="1.0" />
<circle cx="349" cy="32.4" r="2.4" fill="#ff1010" />
<text x="361" y="35.2" font-size="8" text-anchor="start" font-weight="normal" font-style="normal" font-family='"Liberation Serif", serif' fill="#000" >270°C</text>
<line x1="340.3" y1="42.76" x2="357.2" y2="42.76" stroke="#7878ff" stroke-width="1.0" />
<path d="M349,40L351.64,44.68L346.36,44.68Z" fill="#1020ff" />
<text x="361" y="45.56" font-size="8" text-anchor="start" font-weight="normal" font-style="normal" font-family='"Liberation Serif", serif' fill="#000" >240°C</text>
<line x1="340.3" y1="53.12" x2="357.2" y2="53.12" stroke="#ff88ff" stroke-width="1.0" />
<path d="M349,55.88L351.64,51.2L346.36,51.2Z" fill="#ff10ff" />
<text x="361" y="55.92" font-size="8" text-anchor="start" font-weight="normal" font-style="normal" font-family='"Liberation Serif", serif' fill="#000" >210°C</text>
<line x1="340.3" y1="63.48" x2="357.2" y2="63.48" stroke="#68b868" stroke-width="1.0" />
<path d="M349,60.48L352,63.48L349,66.48L346,63.48Z" fill="#14821e" />
<text x="361" y="66.28" font-size="8" text-anchor="start" font-weight="normal" font-style="normal" font-family='"Liberation Serif", serif' fill="#000" >180°C</text>
<line x1="340.3" y1="73.84" x2="357.2" y2="73.84" stroke="#5858a8" stroke-width="1.0" />
<path d="M346.24,73.84L350.92,71.2L350.92,76.48Z" fill="#000080" />
<text x="361" y="76.64" font-size="8" text-anchor="start" font-weight="normal" font-style="normal" font-family='"Liberation Serif", serif' fill="#000" >150°C</text>
<line x1="340.3" y1="84.2" x2="357.2" y2="84.2" stroke="#c09cff" stroke-width="1.0" />
<path d="M351.76,84.2L347.08,81.56L347.08,86.84Z" fill="#8010ff" />
<text x="361" y="87" font-size="8" text-anchor="start" font-weight="normal" font-style="normal" font-family='"Liberation Serif", serif' fill="#000" >120°C</text>
<line x1="387" y1="50.9" x2="414.5" y2="50.9" stroke="#262626" stroke-width="1.15" />
<polyline points="414.5,50.9 417.75,53.1 422.62,48.7 427.49,53.1 432.36,48.7 434.8,50.9" fill="none" stroke="#262626" stroke-width="1.15" stroke-linejoin="miter"/>
<line x1="434.8" y1="50.9" x2="457.4" y2="50.9" stroke="#262626" stroke-width="1.15" />
<polyline points="408.3,50.9 408.3,63.6 441.4,63.6 441.4,50.9" fill="none" stroke="#262626" stroke-width="1.15"/>
<polyline points="419.9,61.4 422.8,63.6 419.9,65.8" fill="none" stroke="#262626" stroke-width="1.15"/>
<polyline points="424.3,61.4 427.2,63.6 424.3,65.8" fill="none" stroke="#262626" stroke-width="1.15"/>
<circle cx="408.3" cy="50.9" r="2.2" fill="#000"/>
<polyline points="457.4,50.9 460.62,53.1 465.44,48.7 470.26,53.1 475.09,48.7 477.5,50.9" fill="none" stroke="#262626" stroke-width="1.15" stroke-linejoin="miter"/>
<line x1="477.5" y1="50.9" x2="490.6" y2="50.9" stroke="#262626" stroke-width="1.15" />
<polyline points="450.4,50.9 450.4,63.0 483.3,63.0 483.3,50.9" fill="none" stroke="#262626" stroke-width="1.15"/>
<polyline points="461.7,60.8 464.6,63 461.7,65.2" fill="none" stroke="#262626" stroke-width="1.15"/>
<polyline points="466.1,60.8 469,63 466.1,65.2" fill="none" stroke="#262626" stroke-width="1.15"/>
<circle cx="450.4" cy="50.9" r="2.2" fill="#000"/>
<polyline points="490.6,50.9 493.56,53.1 498,48.7 502.44,53.1 506.88,48.7 509.1,50.9" fill="none" stroke="#262626" stroke-width="1.15" stroke-linejoin="miter"/>
<line x1="509.1" y1="50.9" x2="527.7" y2="50.9" stroke="#262626" stroke-width="1.15" />
<text x="425" y="47.2" font-size="5.5" text-anchor="middle" font-weight="normal" font-style="normal" font-family='"Liberation Sans", sans-serif' fill="#1a1a1a" stroke="#1a1a1a" stroke-width="0.18">Rgrain</text>
<text x="425.3" y="60" font-size="5.5" text-anchor="middle" font-weight="normal" font-style="normal" font-family='"Liberation Sans", sans-serif' fill="#1a1a1a" stroke="#1a1a1a" stroke-width="0.18">CPEgrain</text>
<text x="467.2" y="47" font-size="5.5" text-anchor="middle" font-weight="normal" font-style="normal" font-family='"Liberation Sans", sans-serif' fill="#1a1a1a" stroke="#1a1a1a" stroke-width="0.18">Rgb</text>
<text x="467" y="59.6" font-size="5.5" text-anchor="middle" font-weight="normal" font-style="normal" font-family='"Liberation Sans", sans-serif' fill="#1a1a1a" stroke="#1a1a1a" stroke-width="0.18">CPEgb</text>
<text x="500.3" y="47" font-size="5.5" text-anchor="middle" font-weight="normal" font-style="normal" font-family='"Liberation Sans", sans-serif' fill="#1a1a1a" stroke="#1a1a1a" stroke-width="0.18">Rel</text>
</g>
<g id="pc">
<defs><radialGradient id="og" cx="0.42" cy="0.42" r="0.58"><stop offset="0" stop-color="#fff"/><stop offset="0.22" stop-color="#fff4ea"/><stop offset="0.45" stop-color="#f6842a"/><stop offset="1" stop-color="#ec6c0c"/></radialGradient></defs>
<rect x="49.9" y="229.3" width="202.1" height="163.2" fill="none" stroke="#000" stroke-width="1.4"/>
<line x1="46.9" y1="392.5" x2="49.9" y2="392.5" stroke="#000" stroke-width="1.4" />
<text x="44.6" y="395.7" font-size="7.8" text-anchor="end" font-weight="bold" font-family='"Liberation Serif", serif' >10<tspan font-size="5.8" dy="-3.3">-13</tspan></text>
<line x1="48.1" y1="374.37" x2="49.9" y2="374.37" stroke="#000" stroke-width="1.0" />
<line x1="46.9" y1="356.23" x2="49.9" y2="356.23" stroke="#000" stroke-width="1.4" />
<text x="44.6" y="359.43" font-size="7.8" text-anchor="end" font-weight="bold" font-family='"Liberation Serif", serif' >10<tspan font-size="5.8" dy="-3.3">-11</tspan></text>
<line x1="48.1" y1="338.1" x2="49.9" y2="338.1" stroke="#000" stroke-width="1.0" />
<line x1="46.9" y1="319.97" x2="49.9" y2="319.97" stroke="#000" stroke-width="1.4" />
<text x="44.6" y="323.17" font-size="7.8" text-anchor="end" font-weight="bold" font-family='"Liberation Serif", serif' >10<tspan font-size="5.8" dy="-3.3">-9</tspan></text>
<line x1="48.1" y1="301.83" x2="49.9" y2="301.83" stroke="#000" stroke-width="1.0" />
<line x1="46.9" y1="283.7" x2="49.9" y2="283.7" stroke="#000" stroke-width="1.4" />
<text x="44.6" y="286.9" font-size="7.8" text-anchor="end" font-weight="bold" font-family='"Liberation Serif", serif' >10<tspan font-size="5.8" dy="-3.3">-7</tspan></text>
<line x1="48.1" y1="265.57" x2="49.9" y2="265.57" stroke="#000" stroke-width="1.0" />
<line x1="46.9" y1="247.43" x2="49.9" y2="247.43" stroke="#000" stroke-width="1.4" />
<text x="44.6" y="250.63" font-size="7.8" text-anchor="end" font-weight="bold" font-family='"Liberation Serif", serif' >10<tspan font-size="5.8" dy="-3.3">-5</tspan></text>
<line x1="48.1" y1="229.3" x2="49.9" y2="229.3" stroke="#000" stroke-width="1.0" />
<line x1="49.9" y1="392.5" x2="49.9" y2="395.5" stroke="#000" stroke-width="1.4" />
<text x="49.9" y="405.3" font-size="8.3" text-anchor="middle" font-weight="bold" font-style="normal" font-family='"Liberation Serif", serif' fill="#000" >90</text>
<line x1="78.77" y1="392.5" x2="78.77" y2="395.5" stroke="#000" stroke-width="1.4" />
<text x="78.77" y="405.3" font-size="8.3" text-anchor="middle" font-weight="bold" font-style="normal" font-family='"Liberation Serif", serif' fill="#000" >120</text>
<line x1="107.64" y1="392.5" x2="107.64" y2="395.5" stroke="#000" stroke-width="1.4" />
<text x="107.64" y="405.3" font-size="8.3" text-anchor="middle" font-weight="bold" font-style="normal" font-family='"Liberation Serif", serif' fill="#000" >150</text>
<line x1="136.51" y1="392.5" x2="136.51" y2="395.5" stroke="#000" stroke-width="1.4" />
<text x="136.51" y="405.3" font-size="8.3" text-anchor="middle" font-weight="bold" font-style="normal" font-family='"Liberation Serif", serif' fill="#000" >180</text>
<line x1="165.39" y1="392.5" x2="165.39" y2="395.5" stroke="#000" stroke-width="1.4" />
<text x="165.39" y="405.3" font-size="8.3" text-anchor="middle" font-weight="bold" font-style="normal" font-family='"Liberation Serif", serif' fill="#000" >210</text>
<line x1="194.26" y1="392.5" x2="194.26" y2="395.5" stroke="#000" stroke-width="1.4" />
<text x="194.26" y="405.3" font-size="8.3" text-anchor="middle" font-weight="bold" font-style="normal" font-family='"Liberation Serif", serif' fill="#000" >240</text>
<line x1="223.13" y1="392.5" x2="223.13" y2="395.5" stroke="#000" stroke-width="1.4" />
<text x="223.13" y="405.3" font-size="8.3" text-anchor="middle" font-weight="bold" font-style="normal" font-family='"Liberation Serif", serif' fill="#000" >270</text>
<line x1="252" y1="392.5" x2="252" y2="395.5" stroke="#000" stroke-width="1.4" />
<text x="252" y="405.3" font-size="8.3" text-anchor="middle" font-weight="bold" font-style="normal" font-family='"Liberation Serif", serif' fill="#000" >300</text>
<line x1="64.34" y1="392.5" x2="64.34" y2="394.3" stroke="#000" stroke-width="1.0" />
<line x1="93.21" y1="392.5" x2="93.21" y2="394.3" stroke="#000" stroke-width="1.0" />
<line x1="122.08" y1="392.5" x2="122.08" y2="394.3" stroke="#000" stroke-width="1.0" />
<line x1="150.95" y1="392.5" x2="150.95" y2="394.3" stroke="#000" stroke-width="1.0" />
<line x1="179.82" y1="392.5" x2="179.82" y2="394.3" stroke="#000" stroke-width="1.0" />
<line x1="208.69" y1="392.5" x2="208.69" y2="394.3" stroke="#000" stroke-width="1.0" />
<line x1="237.56" y1="392.5" x2="237.56" y2="394.3" stroke="#000" stroke-width="1.0" />
<circle cx="78.77" cy="281.8" r="3" fill="#0a820a" />
<circle cx="107.64" cy="277.8" r="3" fill="#0a820a" />
<circle cx="136.51" cy="273.6" r="3" fill="#0a820a" />
<circle cx="165.39" cy="272.3" r="3" fill="#0a820a" />
<circle cx="194.26" cy="271.3" r="3" fill="#0a820a" />
<circle cx="223.13" cy="271" r="3" fill="#0a820a" />
<circle cx="78.77" cy="353.7" r="3" fill="url(#og)" />
<circle cx="107.64" cy="351.4" r="3" fill="url(#og)" />
<circle cx="136.51" cy="347.7" r="3" fill="url(#og)" />
<circle cx="165.39" cy="346.9" r="3" fill="url(#og)" />
<circle cx="194.26" cy="341.1" r="3" fill="url(#og)" />
<circle cx="223.13" cy="340.4" r="3" fill="url(#og)" />
<circle cx="69.1" cy="238.6" r="3" fill="#0a820a" />
<circle cx="69.1" cy="254" r="3" fill="url(#og)" />
<text x="83.6" y="242.6" font-size="11.2" font-weight="bold" font-family='"Liberation Serif", serif'><tspan font-style="italic">C</tspan><tspan font-size="7.5" dy="2.6">gb</tspan></text>
<text x="83.6" y="258.2" font-size="11.2" font-weight="bold" font-family='"Liberation Serif", serif'><tspan font-style="italic">C</tspan><tspan font-size="7.5" dy="2.6">grain</tspan></text>
<text transform="translate(27.4,304.0) rotate(-90)" font-size="10.5" text-anchor="middle" font-weight="bold" font-family='"Liberation Serif", serif'>Capacitance (F)</text>
<text x="165" y="415.7" font-size="10.8" text-anchor="middle" font-weight="bold" font-style="normal" font-family='"Liberation Serif", serif' fill="#000" textLength="127.2" lengthAdjust="spacing">Sintering Temperature (°C)</text>
<text x="15.6" y="231.4" font-size="13.5" text-anchor="start" font-weight="bold" font-style="normal" font-family='"Liberation Serif", serif' fill="#000" >(c)</text>
</g>
<g id="pd">
<defs><pattern id="hatch" patternUnits="userSpaceOnUse" width="3.1" height="3.1" patternTransform="rotate(45)"><rect width="3.1" height="3.1" fill="#fff"/><line x1="0.6" y1="0" x2="0.6" y2="3.1" stroke="#ff5c5c" stroke-width="0.9"/></pattern></defs>
<rect x="349.6" y="338.8" width="20" height="52.1" fill="url(#hatch)" stroke="#555" stroke-width="0.8"/>
<rect x="389.5" y="313.7" width="20" height="77.2" fill="url(#hatch)" stroke="#555" stroke-width="0.8"/>
<rect x="429.5" y="250.7" width="20" height="140.2" fill="url(#hatch)" stroke="#555" stroke-width="0.8"/>
<rect x="469.4" y="291.6" width="20" height="99.3" fill="url(#hatch)" stroke="#555" stroke-width="0.8"/>
<rect x="509.4" y="299.7" width="20" height="91.2" fill="url(#hatch)" stroke="#555" stroke-width="0.8"/>
<rect x="339.7" y="228.5" width="199.59999999999997" height="162.39999999999998" fill="none" stroke="#000" stroke-width="1.4"/>
<line x1="336.7" y1="390.9" x2="339.7" y2="390.9" stroke="#000" stroke-width="1.4" />
<text x="334.8" y="395.1" font-size="9.6" text-anchor="end" font-weight="bold" font-family='"Liberation Serif", serif' >10<tspan font-size="6.6" dy="-4.6">-7</tspan></text>
<line x1="337.9" y1="378.68" x2="339.7" y2="378.68" stroke="#000" stroke-width="0.9" />
<line x1="337.9" y1="371.53" x2="339.7" y2="371.53" stroke="#000" stroke-width="0.9" />
<line x1="337.9" y1="366.46" x2="339.7" y2="366.46" stroke="#000" stroke-width="0.9" />
<line x1="337.9" y1="362.52" x2="339.7" y2="362.52" stroke="#000" stroke-width="0.9" />
<line x1="337.9" y1="359.31" x2="339.7" y2="359.31" stroke="#000" stroke-width="0.9" />
<line x1="337.9" y1="356.59" x2="339.7" y2="356.59" stroke="#000" stroke-width="0.9" />
<line x1="337.9" y1="354.23" x2="339.7" y2="354.23" stroke="#000" stroke-width="0.9" />
<line x1="337.9" y1="352.16" x2="339.7" y2="352.16" stroke="#000" stroke-width="0.9" />
<line x1="336.7" y1="350.3" x2="339.7" y2="350.3" stroke="#000" stroke-width="1.4" />
<text x="334.8" y="354.5" font-size="9.6" text-anchor="end" font-weight="bold" font-family='"Liberation Serif", serif' >10<tspan font-size="6.6" dy="-4.6">-6</tspan></text>
<line x1="337.9" y1="338.08" x2="339.7" y2="338.08" stroke="#000" stroke-width="0.9" />
<line x1="337.9" y1="330.93" x2="339.7" y2="330.93" stroke="#000" stroke-width="0.9" />
<line x1="337.9" y1="325.86" x2="339.7" y2="325.86" stroke="#000" stroke-width="0.9" />
<line x1="337.9" y1="321.92" x2="339.7" y2="321.92" stroke="#000" stroke-width="0.9" />
<line x1="337.9" y1="318.71" x2="339.7" y2="318.71" stroke="#000" stroke-width="0.9" />
<line x1="337.9" y1="315.99" x2="339.7" y2="315.99" stroke="#000" stroke-width="0.9" />
<line x1="337.9" y1="313.63" x2="339.7" y2="313.63" stroke="#000" stroke-width="0.9" />
<line x1="337.9" y1="311.56" x2="339.7" y2="311.56" stroke="#000" stroke-width="0.9" />
<line x1="336.7" y1="309.7" x2="339.7" y2="309.7" stroke="#000" stroke-width="1.4" />
<text x="334.8" y="313.9" font-size="9.6" text-anchor="end" font-weight="bold" font-family='"Liberation Serif", serif' >10<tspan font-size="6.6" dy="-4.6">-5</tspan></text>
<line x1="337.9" y1="297.48" x2="339.7" y2="297.48" stroke="#000" stroke-width="0.9" />
<line x1="337.9" y1="290.33" x2="339.7" y2="290.33" stroke="#000" stroke-width="0.9" />
<line x1="337.9" y1="285.26" x2="339.7" y2="285.26" stroke="#000" stroke-width="0.9" />
<line x1="337.9" y1="281.32" x2="339.7" y2="281.32" stroke="#000" stroke-width="0.9" />
<line x1="337.9" y1="278.11" x2="339.7" y2="278.11" stroke="#000" stroke-width="0.9" />
<line x1="337.9" y1="275.39" x2="339.7" y2="275.39" stroke="#000" stroke-width="0.9" />
<line x1="337.9" y1="273.03" x2="339.7" y2="273.03" stroke="#000" stroke-width="0.9" />
<line x1="337.9" y1="270.96" x2="339.7" y2="270.96" stroke="#000" stroke-width="0.9" />
<line x1="336.7" y1="269.1" x2="339.7" y2="269.1" stroke="#000" stroke-width="1.4" />
<text x="334.8" y="273.3" font-size="9.6" text-anchor="end" font-weight="bold" font-family='"Liberation Serif", serif' >10<tspan font-size="6.6" dy="-4.6">-4</tspan></text>
<line x1="337.9" y1="256.88" x2="339.7" y2="256.88" stroke="#000" stroke-width="0.9" />
<line x1="337.9" y1="249.73" x2="339.7" y2="249.73" stroke="#000" stroke-width="0.9" />
<line x1="337.9" y1="244.66" x2="339.7" y2="244.66" stroke="#000" stroke-width="0.9" />
<line x1="337.9" y1="240.72" x2="339.7" y2="240.72" stroke="#000" stroke-width="0.9" />
<line x1="337.9" y1="237.51" x2="339.7" y2="237.51" stroke="#000" stroke-width="0.9" />
<line x1="337.9" y1="234.79" x2="339.7" y2="234.79" stroke="#000" stroke-width="0.9" />
<line x1="337.9" y1="232.43" x2="339.7" y2="232.43" stroke="#000" stroke-width="0.9" />
<line x1="337.9" y1="230.36" x2="339.7" y2="230.36" stroke="#000" stroke-width="0.9" />
<line x1="336.7" y1="228.5" x2="339.7" y2="228.5" stroke="#000" stroke-width="1.4" />
<text x="334.8" y="232.7" font-size="9.6" text-anchor="end" font-weight="bold" font-family='"Liberation Serif", serif' >10<tspan font-size="6.6" dy="-4.6">-3</tspan></text>
<line x1="359.6" y1="390.9" x2="359.6" y2="393.9" stroke="#000" stroke-width="1.4" />
<text x="359.6" y="406.2" font-size="10" text-anchor="middle" font-weight="bold" font-style="normal" font-family='"Liberation Serif", serif' fill="#000" >1</text>
<line x1="399.5" y1="390.9" x2="399.5" y2="393.9" stroke="#000" stroke-width="1.4" />
<text x="399.5" y="406.2" font-size="10" text-anchor="middle" font-weight="bold" font-style="normal" font-family='"Liberation Serif", serif' fill="#000" >1.5</text>
<line x1="439.5" y1="390.9" x2="439.5" y2="393.9" stroke="#000" stroke-width="1.4" />
<text x="439.5" y="406.2" font-size="10" text-anchor="middle" font-weight="bold" font-style="normal" font-family='"Liberation Serif", serif' fill="#000" >2</text>
<line x1="479.4" y1="390.9" x2="479.4" y2="393.9" stroke="#000" stroke-width="1.4" />
<text x="479.4" y="406.2" font-size="10" text-anchor="middle" font-weight="bold" font-style="normal" font-family='"Liberation Serif", serif' fill="#000" >5</text>
<line x1="519.4" y1="390.9" x2="519.4" y2="393.9" stroke="#000" stroke-width="1.4" />
<text x="519.4" y="406.2" font-size="10" text-anchor="middle" font-weight="bold" font-style="normal" font-family='"Liberation Serif", serif' fill="#000" >8</text>
<line x1="379.55" y1="390.9" x2="379.55" y2="392.7" stroke="#000" stroke-width="1.0" />
<line x1="419.5" y1="390.9" x2="419.5" y2="392.7" stroke="#000" stroke-width="1.0" />
<line x1="459.45" y1="390.9" x2="459.45" y2="392.7" stroke="#000" stroke-width="1.0" />
<line x1="499.4" y1="390.9" x2="499.4" y2="392.7" stroke="#000" stroke-width="1.0" />
<text x="439.6" y="420" font-size="10" text-anchor="middle" font-weight="bold" font-style="normal" font-family='"Liberation Serif", serif' fill="#000" >EO:Li</text>
<text transform="translate(314.6,363.5) rotate(-90)" font-size="11.5" text-anchor="start" font-weight="bold" font-family='"Liberation Serif", serif'>Conductivity<tspan dx="5.4">(S/cm)</tspan></text>
<text x="289.5" y="231.4" font-size="13.5" text-anchor="start" font-weight="bold" font-style="normal" font-family='"Liberation Serif", serif' fill="#000" >(d)</text>
</g>
</svg>
</body></html>
